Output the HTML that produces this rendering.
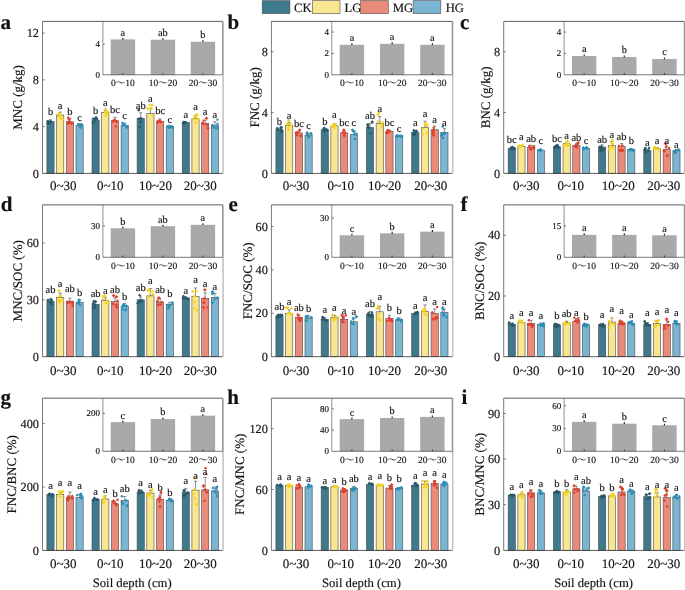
<!DOCTYPE html>
<html><head><meta charset="utf-8"><title>Figure</title>
<style>html,body{margin:0;padding:0;background:#fff}svg{display:block}text{text-rendering:geometricPrecision;stroke:#111;stroke-width:0.15px;font-family:'Liberation Serif', 'Noto Serif CJK SC', serif;fill:#111}</style>
</head><body>
<svg width="685" height="590" viewBox="0 0 685 590">
<rect width="685" height="590" fill="#fff"/>
<rect x="46.90" y="121.49" width="7.2" height="51.91" fill="#3f7a8c" stroke="#4a4a4a" stroke-width="0.6"/>
<line x1="50.50" y1="121.49" x2="50.50" y2="119.73" stroke="#444" stroke-width="0.6"/>
<line x1="48.90" y1="119.73" x2="52.10" y2="119.73" stroke="#444" stroke-width="0.6"/>
<circle cx="49.51" cy="122.82" r="1.2" fill="#27596a"/>
<path d="M48.11 121.55L49.91 123.35L48.11 125.15L46.31 123.35Z" fill="#27596a"/>
<circle cx="50.70" cy="121.12" r="1.2" fill="#27596a"/>
<path d="M50.54 120.09L52.34 121.89L50.54 123.69L48.74 121.89Z" fill="#27596a"/>
<circle cx="47.91" cy="120.94" r="1.2" fill="#27596a"/>
<path d="M48.21 119.93L50.01 121.73L48.21 123.53L46.41 121.73Z" fill="#27596a"/>
<text x="50.50" y="115.10" font-size="10.5" text-anchor="middle" >b</text>
<rect x="56.60" y="115.06" width="7.2" height="58.34" fill="#f8e690" stroke="#4a4a4a" stroke-width="0.6"/>
<line x1="60.20" y1="115.06" x2="60.20" y2="112.13" stroke="#444" stroke-width="0.6"/>
<line x1="58.60" y1="112.13" x2="61.80" y2="112.13" stroke="#444" stroke-width="0.6"/>
<circle cx="59.78" cy="115.68" r="1.2" fill="#f4d21f"/>
<path d="M58.65 112.06L60.45 113.86L58.65 115.66L56.85 113.86Z" fill="#f4d21f"/>
<circle cx="60.91" cy="118.32" r="1.2" fill="#f4d21f"/>
<path d="M59.62 112.14L61.42 113.94L59.62 115.74L57.82 113.94Z" fill="#f4d21f"/>
<circle cx="62.87" cy="119.73" r="1.2" fill="#f4d21f"/>
<path d="M59.02 114.76L60.82 116.56L59.02 118.36L57.22 116.56Z" fill="#f4d21f"/>
<text x="60.20" y="109.20" font-size="10.5" text-anchor="middle" >a</text>
<rect x="66.30" y="121.72" width="7.2" height="51.68" fill="#e98a7a" stroke="#4a4a4a" stroke-width="0.6"/>
<line x1="69.90" y1="121.72" x2="69.90" y2="118.21" stroke="#444" stroke-width="0.6"/>
<line x1="68.30" y1="118.21" x2="71.50" y2="118.21" stroke="#444" stroke-width="0.6"/>
<circle cx="67.91" cy="123.72" r="1.2" fill="#e2402c"/>
<path d="M71.67 121.75L73.47 123.55L71.67 125.35L69.87 123.55Z" fill="#e2402c"/>
<circle cx="68.11" cy="117.79" r="1.2" fill="#e2402c"/>
<path d="M69.19 117.71L70.99 119.51L69.19 121.31L67.39 119.51Z" fill="#e2402c"/>
<circle cx="70.17" cy="122.74" r="1.2" fill="#e2402c"/>
<path d="M68.25 120.35L70.05 122.15L68.25 123.95L66.45 122.15Z" fill="#e2402c"/>
<text x="69.90" y="115.10" font-size="10.5" text-anchor="middle" >b</text>
<rect x="76.00" y="125.46" width="7.2" height="47.94" fill="#7ab5d2" stroke="#4a4a4a" stroke-width="0.6"/>
<line x1="79.60" y1="125.46" x2="79.60" y2="124.06" stroke="#444" stroke-width="0.6"/>
<line x1="78.00" y1="124.06" x2="81.20" y2="124.06" stroke="#444" stroke-width="0.6"/>
<circle cx="80.61" cy="124.48" r="1.2" fill="#2b8fb8"/>
<path d="M80.08 124.14L81.88 125.94L80.08 127.74L78.28 125.94Z" fill="#2b8fb8"/>
<circle cx="79.34" cy="124.77" r="1.2" fill="#2b8fb8"/>
<path d="M80.71 125.80L82.51 127.60L80.71 129.40L78.91 127.60Z" fill="#2b8fb8"/>
<circle cx="78.17" cy="124.09" r="1.2" fill="#2b8fb8"/>
<path d="M81.70 122.97L83.50 124.77L81.70 126.57L79.90 124.77Z" fill="#2b8fb8"/>
<text x="79.60" y="121.10" font-size="10.5" text-anchor="middle" >c</text>
<rect x="92.00" y="119.97" width="7.2" height="53.43" fill="#3f7a8c" stroke="#4a4a4a" stroke-width="0.6"/>
<line x1="95.60" y1="119.97" x2="95.60" y2="118.21" stroke="#444" stroke-width="0.6"/>
<line x1="94.00" y1="118.21" x2="97.20" y2="118.21" stroke="#444" stroke-width="0.6"/>
<circle cx="96.88" cy="118.92" r="1.2" fill="#27596a"/>
<path d="M93.46 120.97L95.26 122.77L93.46 124.57L91.66 122.77Z" fill="#27596a"/>
<circle cx="95.14" cy="120.01" r="1.2" fill="#27596a"/>
<path d="M95.54 117.26L97.34 119.06L95.54 120.86L93.74 119.06Z" fill="#27596a"/>
<circle cx="93.02" cy="118.65" r="1.2" fill="#27596a"/>
<path d="M96.01 115.83L97.81 117.63L96.01 119.43L94.21 117.63Z" fill="#27596a"/>
<text x="95.60" y="114.00" font-size="10.5" text-anchor="middle" >b</text>
<rect x="101.70" y="112.37" width="7.2" height="61.03" fill="#f8e690" stroke="#4a4a4a" stroke-width="0.6"/>
<line x1="105.30" y1="112.37" x2="105.30" y2="110.03" stroke="#444" stroke-width="0.6"/>
<line x1="103.70" y1="110.03" x2="106.90" y2="110.03" stroke="#444" stroke-width="0.6"/>
<circle cx="107.40" cy="111.10" r="1.2" fill="#f4d21f"/>
<path d="M105.83 113.55L107.63 115.35L105.83 117.15L104.03 115.35Z" fill="#f4d21f"/>
<circle cx="105.75" cy="108.62" r="1.2" fill="#f4d21f"/>
<path d="M107.79 111.66L109.59 113.46L107.79 115.26L105.99 113.46Z" fill="#f4d21f"/>
<circle cx="105.15" cy="111.98" r="1.2" fill="#f4d21f"/>
<path d="M106.43 109.93L108.23 111.73L106.43 113.53L104.63 111.73Z" fill="#f4d21f"/>
<text x="105.30" y="105.50" font-size="10.5" text-anchor="middle" >a</text>
<rect x="111.40" y="120.78" width="7.2" height="52.62" fill="#e98a7a" stroke="#4a4a4a" stroke-width="0.6"/>
<line x1="115.00" y1="120.78" x2="115.00" y2="117.28" stroke="#444" stroke-width="0.6"/>
<line x1="113.40" y1="117.28" x2="116.60" y2="117.28" stroke="#444" stroke-width="0.6"/>
<circle cx="115.82" cy="126.40" r="1.2" fill="#e2402c"/>
<path d="M113.79 118.73L115.59 120.53L113.79 122.33L111.99 120.53Z" fill="#e2402c"/>
<circle cx="114.36" cy="120.45" r="1.2" fill="#e2402c"/>
<path d="M114.79 118.40L116.59 120.20L114.79 122.00L112.99 120.20Z" fill="#e2402c"/>
<circle cx="113.14" cy="121.60" r="1.2" fill="#e2402c"/>
<path d="M116.50 119.72L118.30 121.52L116.50 123.32L114.70 121.52Z" fill="#e2402c"/>
<text x="115.00" y="112.70" font-size="10.5" text-anchor="middle" >bc</text>
<rect x="121.10" y="125.46" width="7.2" height="47.94" fill="#7ab5d2" stroke="#4a4a4a" stroke-width="0.6"/>
<line x1="124.70" y1="125.46" x2="124.70" y2="123.12" stroke="#444" stroke-width="0.6"/>
<line x1="123.10" y1="123.12" x2="126.30" y2="123.12" stroke="#444" stroke-width="0.6"/>
<circle cx="122.62" cy="125.49" r="1.2" fill="#2b8fb8"/>
<path d="M126.78 125.76L128.58 127.56L126.78 129.36L124.98 127.56Z" fill="#2b8fb8"/>
<circle cx="122.35" cy="122.94" r="1.2" fill="#2b8fb8"/>
<path d="M126.85 124.50L128.65 126.30L126.85 128.10L125.05 126.30Z" fill="#2b8fb8"/>
<circle cx="126.49" cy="126.58" r="1.2" fill="#2b8fb8"/>
<path d="M124.23 122.38L126.03 124.18L124.23 125.98L122.43 124.18Z" fill="#2b8fb8"/>
<text x="124.70" y="119.20" font-size="10.5" text-anchor="middle" >c</text>
<rect x="137.10" y="118.33" width="7.2" height="55.07" fill="#3f7a8c" stroke="#4a4a4a" stroke-width="0.6"/>
<line x1="140.70" y1="118.33" x2="140.70" y2="112.83" stroke="#444" stroke-width="0.6"/>
<line x1="139.10" y1="112.83" x2="142.30" y2="112.83" stroke="#444" stroke-width="0.6"/>
<circle cx="139.91" cy="127.12" r="1.2" fill="#27596a"/>
<path d="M138.75 108.25L140.55 110.05L138.75 111.85L136.95 110.05Z" fill="#27596a"/>
<circle cx="138.89" cy="118.74" r="1.2" fill="#27596a"/>
<path d="M140.62 120.11L142.42 121.91L140.62 123.71L138.82 121.91Z" fill="#27596a"/>
<circle cx="141.20" cy="118.29" r="1.2" fill="#27596a"/>
<path d="M140.25 116.98L142.05 118.78L140.25 120.58L138.45 118.78Z" fill="#27596a"/>
<text x="140.70" y="108.70" font-size="10.5" text-anchor="middle" >ab</text>
<rect x="146.80" y="113.54" width="7.2" height="59.86" fill="#f8e690" stroke="#4a4a4a" stroke-width="0.6"/>
<line x1="150.40" y1="113.54" x2="150.40" y2="108.27" stroke="#444" stroke-width="0.6"/>
<line x1="148.80" y1="108.27" x2="152.00" y2="108.27" stroke="#444" stroke-width="0.6"/>
<circle cx="149.67" cy="105.12" r="1.2" fill="#f4d21f"/>
<path d="M151.47 106.99L153.27 108.79L151.47 110.59L149.67 108.79Z" fill="#f4d21f"/>
<circle cx="150.49" cy="108.28" r="1.2" fill="#f4d21f"/>
<path d="M147.90 106.95L149.70 108.75L147.90 110.55L146.10 108.75Z" fill="#f4d21f"/>
<circle cx="152.64" cy="115.34" r="1.2" fill="#f4d21f"/>
<path d="M152.07 103.32L153.87 105.12L152.07 106.92L150.27 105.12Z" fill="#f4d21f"/>
<text x="150.40" y="102.20" font-size="10.5" text-anchor="middle" >a</text>
<rect x="156.50" y="121.25" width="7.2" height="52.15" fill="#e98a7a" stroke="#4a4a4a" stroke-width="0.6"/>
<line x1="160.10" y1="121.25" x2="160.10" y2="118.91" stroke="#444" stroke-width="0.6"/>
<line x1="158.50" y1="118.91" x2="161.70" y2="118.91" stroke="#444" stroke-width="0.6"/>
<circle cx="159.50" cy="120.46" r="1.2" fill="#e2402c"/>
<path d="M160.85 120.04L162.65 121.84L160.85 123.64L159.05 121.84Z" fill="#e2402c"/>
<circle cx="157.65" cy="122.57" r="1.2" fill="#e2402c"/>
<path d="M158.21 120.04L160.01 121.84L158.21 123.64L156.41 121.84Z" fill="#e2402c"/>
<circle cx="159.20" cy="121.30" r="1.2" fill="#e2402c"/>
<path d="M158.15 119.47L159.95 121.27L158.15 123.07L156.35 121.27Z" fill="#e2402c"/>
<text x="160.10" y="114.30" font-size="10.5" text-anchor="middle" >bc</text>
<rect x="166.20" y="126.40" width="7.2" height="47.00" fill="#7ab5d2" stroke="#4a4a4a" stroke-width="0.6"/>
<line x1="169.80" y1="126.40" x2="169.80" y2="125.23" stroke="#444" stroke-width="0.6"/>
<line x1="168.20" y1="125.23" x2="171.40" y2="125.23" stroke="#444" stroke-width="0.6"/>
<circle cx="167.57" cy="126.24" r="1.2" fill="#2b8fb8"/>
<path d="M171.90 124.78L173.70 126.58L171.90 128.38L170.10 126.58Z" fill="#2b8fb8"/>
<circle cx="170.44" cy="126.87" r="1.2" fill="#2b8fb8"/>
<path d="M168.95 125.24L170.75 127.04L168.95 128.84L167.15 127.04Z" fill="#2b8fb8"/>
<circle cx="169.04" cy="127.86" r="1.2" fill="#2b8fb8"/>
<path d="M172.56 126.02L174.36 127.82L172.56 129.62L170.76 127.82Z" fill="#2b8fb8"/>
<text x="169.80" y="123.20" font-size="10.5" text-anchor="middle" >c</text>
<rect x="182.20" y="122.42" width="7.2" height="50.98" fill="#3f7a8c" stroke="#4a4a4a" stroke-width="0.6"/>
<line x1="185.80" y1="122.42" x2="185.80" y2="121.84" stroke="#444" stroke-width="0.6"/>
<line x1="184.20" y1="121.84" x2="187.40" y2="121.84" stroke="#444" stroke-width="0.6"/>
<circle cx="185.61" cy="122.20" r="1.2" fill="#27596a"/>
<path d="M183.57 120.64L185.37 122.44L183.57 124.24L181.77 122.44Z" fill="#27596a"/>
<circle cx="184.92" cy="122.33" r="1.2" fill="#27596a"/>
<path d="M183.90 121.56L185.70 123.36L183.90 125.16L182.10 123.36Z" fill="#27596a"/>
<circle cx="183.13" cy="123.04" r="1.2" fill="#27596a"/>
<path d="M183.82 120.43L185.62 122.23L183.82 124.03L182.02 122.23Z" fill="#27596a"/>
<text x="185.80" y="118.30" font-size="10.5" text-anchor="middle" >a</text>
<rect x="191.90" y="118.80" width="7.2" height="54.60" fill="#f8e690" stroke="#4a4a4a" stroke-width="0.6"/>
<line x1="195.50" y1="118.80" x2="195.50" y2="115.17" stroke="#444" stroke-width="0.6"/>
<line x1="193.90" y1="115.17" x2="197.10" y2="115.17" stroke="#444" stroke-width="0.6"/>
<circle cx="195.74" cy="122.74" r="1.2" fill="#f4d21f"/>
<path d="M198.18 117.67L199.98 119.47L198.18 121.27L196.38 119.47Z" fill="#f4d21f"/>
<circle cx="197.53" cy="117.96" r="1.2" fill="#f4d21f"/>
<path d="M194.75 114.60L196.55 116.40L194.75 118.20L192.95 116.40Z" fill="#f4d21f"/>
<circle cx="193.64" cy="119.35" r="1.2" fill="#f4d21f"/>
<path d="M197.06 113.01L198.86 114.81L197.06 116.61L195.26 114.81Z" fill="#f4d21f"/>
<text x="195.50" y="109.80" font-size="10.5" text-anchor="middle" >a</text>
<rect x="201.60" y="123.24" width="7.2" height="50.16" fill="#e98a7a" stroke="#4a4a4a" stroke-width="0.6"/>
<line x1="205.20" y1="123.24" x2="205.20" y2="120.08" stroke="#444" stroke-width="0.6"/>
<line x1="203.60" y1="120.08" x2="206.80" y2="120.08" stroke="#444" stroke-width="0.6"/>
<circle cx="204.25" cy="124.11" r="1.2" fill="#e2402c"/>
<path d="M207.92 126.49L209.72 128.29L207.92 130.09L206.12 128.29Z" fill="#e2402c"/>
<circle cx="207.17" cy="125.05" r="1.2" fill="#e2402c"/>
<path d="M206.54 116.51L208.34 118.31L206.54 120.11L204.74 118.31Z" fill="#e2402c"/>
<circle cx="203.67" cy="120.59" r="1.2" fill="#e2402c"/>
<path d="M202.56 121.15L204.36 122.95L202.56 124.75L200.76 122.95Z" fill="#e2402c"/>
<text x="205.20" y="115.10" font-size="10.5" text-anchor="middle" >a</text>
<rect x="211.30" y="125.46" width="7.2" height="47.94" fill="#7ab5d2" stroke="#4a4a4a" stroke-width="0.6"/>
<line x1="214.90" y1="125.46" x2="214.90" y2="121.84" stroke="#444" stroke-width="0.6"/>
<line x1="213.30" y1="121.84" x2="216.50" y2="121.84" stroke="#444" stroke-width="0.6"/>
<circle cx="212.26" cy="125.00" r="1.2" fill="#2b8fb8"/>
<path d="M215.98 126.15L217.78 127.95L215.98 129.75L214.18 127.95Z" fill="#2b8fb8"/>
<circle cx="217.46" cy="119.66" r="1.2" fill="#2b8fb8"/>
<path d="M217.63 126.16L219.43 127.96L217.63 129.76L215.83 127.96Z" fill="#2b8fb8"/>
<circle cx="217.45" cy="123.94" r="1.2" fill="#2b8fb8"/>
<path d="M213.37 125.39L215.17 127.19L213.37 128.99L211.57 127.19Z" fill="#2b8fb8"/>
<text x="214.90" y="118.30" font-size="10.5" text-anchor="middle" >a</text>
<line x1="42.50" y1="21.40" x2="222.90" y2="21.40" stroke="#333" stroke-width="0.8"/>
<line x1="42.50" y1="21.40" x2="42.50" y2="173.40" stroke="#333" stroke-width="0.65"/>
<line x1="42.50" y1="173.40" x2="222.90" y2="173.40" stroke="#333" stroke-width="0.8"/>
<line x1="223.10" y1="21.40" x2="223.10" y2="173.40" stroke="#c4c4c4" stroke-width="1.6"/>
<text x="39.00" y="177.50" font-size="12.3" text-anchor="end" >0</text>
<line x1="42.50" y1="126.63" x2="44.70" y2="126.63" stroke="#333" stroke-width="0.65"/>
<text x="39.00" y="130.73" font-size="12.3" text-anchor="end" >4</text>
<line x1="42.50" y1="79.86" x2="44.70" y2="79.86" stroke="#333" stroke-width="0.65"/>
<text x="39.00" y="83.96" font-size="12.3" text-anchor="end" >8</text>
<line x1="42.50" y1="33.09" x2="44.70" y2="33.09" stroke="#333" stroke-width="0.65"/>
<text x="39.00" y="37.19" font-size="12.3" text-anchor="end" >12</text>
<text x="63.35" y="190.00" font-size="13" text-anchor="middle" >0~30</text>
<text x="110.15" y="190.00" font-size="13" text-anchor="middle" >0~10</text>
<text x="155.45" y="190.00" font-size="13" text-anchor="middle" >10~20</text>
<text x="200.35" y="190.00" font-size="13" text-anchor="middle" >20~30</text>
<text transform="translate(22.00,97.40) rotate(-90)" font-size="13" text-anchor="middle">MNC (g/kg)</text>
<text x="0.5" y="29.40" font-size="21" font-weight="bold">a</text>
<rect x="110.70" y="39.40" width="24.4" height="35.40" fill="#a9a9a9"/>
<line x1="122.90" y1="39.70" x2="122.90" y2="37.90" stroke="#111" stroke-width="1.1"/>
<line x1="122.90" y1="74.80" x2="122.90" y2="73.00" stroke="#222" stroke-width="0.8"/>
<text x="122.90" y="35.80" font-size="10.3" text-anchor="middle" >a</text>
<text x="122.90" y="86.10" font-size="9.5" text-anchor="middle" >0～10</text>
<rect x="150.70" y="39.71" width="24.4" height="35.09" fill="#a9a9a9"/>
<line x1="162.90" y1="40.01" x2="162.90" y2="38.21" stroke="#111" stroke-width="1.1"/>
<line x1="162.90" y1="74.80" x2="162.90" y2="73.00" stroke="#222" stroke-width="0.8"/>
<text x="162.90" y="36.11" font-size="10.3" text-anchor="middle" >ab</text>
<text x="162.90" y="86.10" font-size="9.5" text-anchor="middle" >10～20</text>
<rect x="190.70" y="41.77" width="24.4" height="33.03" fill="#a9a9a9"/>
<line x1="202.90" y1="42.07" x2="202.90" y2="40.27" stroke="#111" stroke-width="1.1"/>
<line x1="202.90" y1="74.80" x2="202.90" y2="73.00" stroke="#222" stroke-width="0.8"/>
<text x="202.90" y="38.17" font-size="10.3" text-anchor="middle" >b</text>
<text x="202.90" y="86.10" font-size="9.5" text-anchor="middle" >20～30</text>
<line x1="102.90" y1="21.40" x2="102.90" y2="74.80" stroke="#333" stroke-width="0.55"/>
<line x1="102.90" y1="74.80" x2="222.90" y2="74.80" stroke="#333" stroke-width="0.65"/>
<text x="100.10" y="77.70" font-size="9" text-anchor="end" >0</text>
<line x1="102.90" y1="44.29" x2="104.90" y2="44.29" stroke="#333" stroke-width="0.65"/>
<text x="100.10" y="47.19" font-size="9" text-anchor="end" >4</text>
<line x1="222.70" y1="21.40" x2="222.70" y2="74.80" stroke="#8a8a8a" stroke-width="1.0"/>
<rect x="275.89" y="129.78" width="7.2" height="43.62" fill="#3f7a8c" stroke="#4a4a4a" stroke-width="0.6"/>
<line x1="279.49" y1="129.78" x2="279.49" y2="128.26" stroke="#444" stroke-width="0.6"/>
<line x1="277.89" y1="128.26" x2="281.09" y2="128.26" stroke="#444" stroke-width="0.6"/>
<circle cx="277.79" cy="130.32" r="1.2" fill="#27596a"/>
<path d="M281.73 129.81L283.53 131.61L281.73 133.41L279.93 131.61Z" fill="#27596a"/>
<circle cx="281.39" cy="127.80" r="1.2" fill="#27596a"/>
<path d="M281.17 128.23L282.97 130.03L281.17 131.83L279.37 130.03Z" fill="#27596a"/>
<circle cx="277.16" cy="128.18" r="1.2" fill="#27596a"/>
<path d="M281.07 125.54L282.87 127.34L281.07 129.14L279.27 127.34Z" fill="#27596a"/>
<text x="279.49" y="125.30" font-size="10.5" text-anchor="middle" >b</text>
<rect x="285.59" y="125.37" width="7.2" height="48.03" fill="#f8e690" stroke="#4a4a4a" stroke-width="0.6"/>
<line x1="289.19" y1="125.37" x2="289.19" y2="122.33" stroke="#444" stroke-width="0.6"/>
<line x1="287.59" y1="122.33" x2="290.79" y2="122.33" stroke="#444" stroke-width="0.6"/>
<circle cx="290.59" cy="123.67" r="1.2" fill="#f4d21f"/>
<path d="M290.81 123.80L292.61 125.60L290.81 127.40L289.01 125.60Z" fill="#f4d21f"/>
<circle cx="288.25" cy="127.66" r="1.2" fill="#f4d21f"/>
<path d="M288.60 118.70L290.40 120.50L288.60 122.30L286.80 120.50Z" fill="#f4d21f"/>
<circle cx="288.64" cy="129.52" r="1.2" fill="#f4d21f"/>
<path d="M287.34 122.13L289.14 123.93L287.34 125.73L285.54 123.93Z" fill="#f4d21f"/>
<text x="289.19" y="118.80" font-size="10.5" text-anchor="middle" >a</text>
<rect x="295.29" y="132.97" width="7.2" height="40.43" fill="#e98a7a" stroke="#4a4a4a" stroke-width="0.6"/>
<line x1="298.89" y1="132.97" x2="298.89" y2="131.14" stroke="#444" stroke-width="0.6"/>
<line x1="297.29" y1="131.14" x2="300.49" y2="131.14" stroke="#444" stroke-width="0.6"/>
<circle cx="296.80" cy="135.04" r="1.2" fill="#e2402c"/>
<path d="M300.60 134.06L302.40 135.86L300.60 137.66L298.80 135.86Z" fill="#e2402c"/>
<circle cx="296.91" cy="135.10" r="1.2" fill="#e2402c"/>
<path d="M299.77 128.25L301.57 130.05L299.77 131.85L297.97 130.05Z" fill="#e2402c"/>
<circle cx="298.05" cy="132.14" r="1.2" fill="#e2402c"/>
<path d="M296.17 130.91L297.97 132.71L296.17 134.51L294.37 132.71Z" fill="#e2402c"/>
<text x="298.89" y="126.90" font-size="10.5" text-anchor="middle" >bc</text>
<rect x="304.99" y="135.10" width="7.2" height="38.30" fill="#7ab5d2" stroke="#4a4a4a" stroke-width="0.6"/>
<line x1="308.59" y1="135.10" x2="308.59" y2="133.27" stroke="#444" stroke-width="0.6"/>
<line x1="306.99" y1="133.27" x2="310.19" y2="133.27" stroke="#444" stroke-width="0.6"/>
<circle cx="311.22" cy="133.91" r="1.2" fill="#2b8fb8"/>
<path d="M311.02 131.67L312.82 133.47L311.02 135.27L309.22 133.47Z" fill="#2b8fb8"/>
<circle cx="308.22" cy="137.22" r="1.2" fill="#2b8fb8"/>
<path d="M306.97 131.08L308.77 132.88L306.97 134.68L305.17 132.88Z" fill="#2b8fb8"/>
<circle cx="307.20" cy="134.77" r="1.2" fill="#2b8fb8"/>
<path d="M309.07 134.47L310.87 136.27L309.07 138.07L307.27 136.27Z" fill="#2b8fb8"/>
<text x="308.59" y="128.80" font-size="10.5" text-anchor="middle" >c</text>
<rect x="321.16" y="129.78" width="7.2" height="43.62" fill="#3f7a8c" stroke="#4a4a4a" stroke-width="0.6"/>
<line x1="324.76" y1="129.78" x2="324.76" y2="128.26" stroke="#444" stroke-width="0.6"/>
<line x1="323.16" y1="128.26" x2="326.36" y2="128.26" stroke="#444" stroke-width="0.6"/>
<circle cx="323.41" cy="129.14" r="1.2" fill="#27596a"/>
<path d="M327.06 128.33L328.86 130.13L327.06 131.93L325.26 130.13Z" fill="#27596a"/>
<circle cx="323.94" cy="128.03" r="1.2" fill="#27596a"/>
<path d="M327.03 128.45L328.83 130.25L327.03 132.05L325.23 130.25Z" fill="#27596a"/>
<circle cx="324.32" cy="131.18" r="1.2" fill="#27596a"/>
<path d="M324.94 127.18L326.74 128.98L324.94 130.78L323.14 128.98Z" fill="#27596a"/>
<text x="324.76" y="124.50" font-size="10.5" text-anchor="middle" >b</text>
<rect x="330.86" y="125.82" width="7.2" height="47.58" fill="#f8e690" stroke="#4a4a4a" stroke-width="0.6"/>
<line x1="334.46" y1="125.82" x2="334.46" y2="123.54" stroke="#444" stroke-width="0.6"/>
<line x1="332.86" y1="123.54" x2="336.06" y2="123.54" stroke="#444" stroke-width="0.6"/>
<circle cx="334.59" cy="128.02" r="1.2" fill="#f4d21f"/>
<path d="M332.69 124.28L334.49 126.08L332.69 127.88L330.89 126.08Z" fill="#f4d21f"/>
<circle cx="331.68" cy="126.21" r="1.2" fill="#f4d21f"/>
<path d="M334.31 122.82L336.11 124.62L334.31 126.42L332.51 124.62Z" fill="#f4d21f"/>
<circle cx="335.72" cy="124.11" r="1.2" fill="#f4d21f"/>
<path d="M334.57 123.39L336.37 125.19L334.57 126.99L332.77 125.19Z" fill="#f4d21f"/>
<text x="334.46" y="118.30" font-size="10.5" text-anchor="middle" >a</text>
<rect x="340.56" y="132.97" width="7.2" height="40.43" fill="#e98a7a" stroke="#4a4a4a" stroke-width="0.6"/>
<line x1="344.16" y1="132.97" x2="344.16" y2="131.14" stroke="#444" stroke-width="0.6"/>
<line x1="342.56" y1="131.14" x2="345.76" y2="131.14" stroke="#444" stroke-width="0.6"/>
<circle cx="344.47" cy="133.13" r="1.2" fill="#e2402c"/>
<path d="M344.50 130.41L346.30 132.21L344.50 134.01L342.70 132.21Z" fill="#e2402c"/>
<circle cx="342.75" cy="132.49" r="1.2" fill="#e2402c"/>
<path d="M344.21 133.95L346.01 135.75L344.21 137.55L342.41 135.75Z" fill="#e2402c"/>
<circle cx="344.51" cy="133.20" r="1.2" fill="#e2402c"/>
<path d="M343.84 128.25L345.64 130.05L343.84 131.85L342.04 130.05Z" fill="#e2402c"/>
<text x="344.16" y="125.60" font-size="10.5" text-anchor="middle" >bc</text>
<rect x="350.26" y="134.64" width="7.2" height="38.76" fill="#7ab5d2" stroke="#4a4a4a" stroke-width="0.6"/>
<line x1="353.86" y1="134.64" x2="353.86" y2="131.60" stroke="#444" stroke-width="0.6"/>
<line x1="352.26" y1="131.60" x2="355.46" y2="131.60" stroke="#444" stroke-width="0.6"/>
<circle cx="354.49" cy="131.36" r="1.2" fill="#2b8fb8"/>
<path d="M354.94 132.73L356.74 134.53L354.94 136.33L353.14 134.53Z" fill="#2b8fb8"/>
<circle cx="353.60" cy="131.59" r="1.2" fill="#2b8fb8"/>
<path d="M356.33 132.19L358.13 133.99L356.33 135.79L354.53 133.99Z" fill="#2b8fb8"/>
<circle cx="354.98" cy="139.30" r="1.2" fill="#2b8fb8"/>
<path d="M352.52 128.27L354.32 130.07L352.52 131.87L350.72 130.07Z" fill="#2b8fb8"/>
<text x="353.86" y="126.40" font-size="10.5" text-anchor="middle" >c</text>
<rect x="366.44" y="127.34" width="7.2" height="46.06" fill="#3f7a8c" stroke="#4a4a4a" stroke-width="0.6"/>
<line x1="370.04" y1="127.34" x2="370.04" y2="123.54" stroke="#444" stroke-width="0.6"/>
<line x1="368.44" y1="123.54" x2="371.64" y2="123.54" stroke="#444" stroke-width="0.6"/>
<circle cx="370.37" cy="133.42" r="1.2" fill="#27596a"/>
<path d="M368.01 123.26L369.81 125.06L368.01 126.86L366.21 125.06Z" fill="#27596a"/>
<circle cx="367.92" cy="126.10" r="1.2" fill="#27596a"/>
<path d="M368.59 126.02L370.39 127.82L368.59 129.62L366.79 127.82Z" fill="#27596a"/>
<circle cx="367.65" cy="124.44" r="1.2" fill="#27596a"/>
<path d="M372.26 120.31L374.06 122.11L372.26 123.91L370.46 122.11Z" fill="#27596a"/>
<text x="370.04" y="119.20" font-size="10.5" text-anchor="middle" >ab</text>
<rect x="376.14" y="123.39" width="7.2" height="50.01" fill="#f8e690" stroke="#4a4a4a" stroke-width="0.6"/>
<line x1="379.74" y1="123.39" x2="379.74" y2="116.55" stroke="#444" stroke-width="0.6"/>
<line x1="378.14" y1="116.55" x2="381.34" y2="116.55" stroke="#444" stroke-width="0.6"/>
<circle cx="377.80" cy="121.48" r="1.2" fill="#f4d21f"/>
<path d="M377.74 112.75L379.54 114.55L377.74 116.35L375.94 114.55Z" fill="#f4d21f"/>
<circle cx="381.88" cy="127.64" r="1.2" fill="#f4d21f"/>
<path d="M382.27 120.71L384.07 122.51L382.27 124.31L380.47 122.51Z" fill="#f4d21f"/>
<circle cx="379.17" cy="112.45" r="1.2" fill="#f4d21f"/>
<path d="M381.60 123.08L383.40 124.88L381.60 126.68L379.80 124.88Z" fill="#f4d21f"/>
<text x="379.74" y="111.90" font-size="10.5" text-anchor="middle" >a</text>
<rect x="385.84" y="131.30" width="7.2" height="42.10" fill="#e98a7a" stroke="#4a4a4a" stroke-width="0.6"/>
<line x1="389.44" y1="131.30" x2="389.44" y2="130.08" stroke="#444" stroke-width="0.6"/>
<line x1="387.84" y1="130.08" x2="391.04" y2="130.08" stroke="#444" stroke-width="0.6"/>
<circle cx="387.54" cy="130.10" r="1.2" fill="#e2402c"/>
<path d="M388.54 130.05L390.34 131.85L388.54 133.65L386.74 131.85Z" fill="#e2402c"/>
<circle cx="387.73" cy="130.56" r="1.2" fill="#e2402c"/>
<path d="M386.75 131.09L388.55 132.89L386.75 134.69L384.95 132.89Z" fill="#e2402c"/>
<circle cx="389.74" cy="131.10" r="1.2" fill="#e2402c"/>
<path d="M388.49 129.57L390.29 131.37L388.49 133.17L386.69 131.37Z" fill="#e2402c"/>
<text x="389.44" y="125.60" font-size="10.5" text-anchor="middle" >bc</text>
<rect x="395.54" y="136.16" width="7.2" height="37.24" fill="#7ab5d2" stroke="#4a4a4a" stroke-width="0.6"/>
<line x1="399.14" y1="136.16" x2="399.14" y2="135.25" stroke="#444" stroke-width="0.6"/>
<line x1="397.54" y1="135.25" x2="400.74" y2="135.25" stroke="#444" stroke-width="0.6"/>
<circle cx="399.83" cy="135.86" r="1.2" fill="#2b8fb8"/>
<path d="M401.85 134.34L403.65 136.14L401.85 137.94L400.05 136.14Z" fill="#2b8fb8"/>
<circle cx="400.75" cy="136.54" r="1.2" fill="#2b8fb8"/>
<path d="M397.82 134.29L399.62 136.09L397.82 137.89L396.02 136.09Z" fill="#2b8fb8"/>
<circle cx="396.56" cy="136.28" r="1.2" fill="#2b8fb8"/>
<path d="M397.06 133.72L398.86 135.52L397.06 137.32L395.26 135.52Z" fill="#2b8fb8"/>
<text x="399.14" y="132.00" font-size="10.5" text-anchor="middle" >c</text>
<rect x="411.71" y="132.21" width="7.2" height="41.19" fill="#3f7a8c" stroke="#4a4a4a" stroke-width="0.6"/>
<line x1="415.31" y1="132.21" x2="415.31" y2="130.38" stroke="#444" stroke-width="0.6"/>
<line x1="413.71" y1="130.38" x2="416.91" y2="130.38" stroke="#444" stroke-width="0.6"/>
<circle cx="414.88" cy="134.78" r="1.2" fill="#27596a"/>
<path d="M413.96 128.80L415.76 130.60L413.96 132.40L412.16 130.60Z" fill="#27596a"/>
<circle cx="413.35" cy="134.07" r="1.2" fill="#27596a"/>
<path d="M416.43 129.37L418.23 131.17L416.43 132.97L414.63 131.17Z" fill="#27596a"/>
<circle cx="413.01" cy="134.55" r="1.2" fill="#27596a"/>
<path d="M414.89 131.29L416.69 133.09L414.89 134.89L413.09 133.09Z" fill="#27596a"/>
<text x="415.31" y="125.60" font-size="10.5" text-anchor="middle" >a</text>
<rect x="421.41" y="127.34" width="7.2" height="46.06" fill="#f8e690" stroke="#4a4a4a" stroke-width="0.6"/>
<line x1="425.01" y1="127.34" x2="425.01" y2="121.26" stroke="#444" stroke-width="0.6"/>
<line x1="423.41" y1="121.26" x2="426.61" y2="121.26" stroke="#444" stroke-width="0.6"/>
<circle cx="422.62" cy="134.53" r="1.2" fill="#f4d21f"/>
<path d="M426.70 122.61L428.50 124.41L426.70 126.21L424.90 124.41Z" fill="#f4d21f"/>
<circle cx="422.68" cy="128.60" r="1.2" fill="#f4d21f"/>
<path d="M427.04 123.95L428.84 125.75L427.04 127.55L425.24 125.75Z" fill="#f4d21f"/>
<circle cx="424.75" cy="123.65" r="1.2" fill="#f4d21f"/>
<path d="M427.40 131.43L429.20 133.23L427.40 135.03L425.60 133.23Z" fill="#f4d21f"/>
<text x="425.01" y="117.20" font-size="10.5" text-anchor="middle" >a</text>
<rect x="431.11" y="129.78" width="7.2" height="43.62" fill="#e98a7a" stroke="#4a4a4a" stroke-width="0.6"/>
<line x1="434.71" y1="129.78" x2="434.71" y2="125.98" stroke="#444" stroke-width="0.6"/>
<line x1="433.11" y1="125.98" x2="436.31" y2="125.98" stroke="#444" stroke-width="0.6"/>
<circle cx="433.41" cy="132.66" r="1.2" fill="#e2402c"/>
<path d="M433.25 131.01L435.05 132.81L433.25 134.61L431.45 132.81Z" fill="#e2402c"/>
<circle cx="432.53" cy="130.36" r="1.2" fill="#e2402c"/>
<path d="M433.04 128.91L434.84 130.71L433.04 132.51L431.24 130.71Z" fill="#e2402c"/>
<circle cx="433.66" cy="127.82" r="1.2" fill="#e2402c"/>
<path d="M433.54 133.41L435.34 135.21L433.54 137.01L431.74 135.21Z" fill="#e2402c"/>
<text x="434.71" y="122.70" font-size="10.5" text-anchor="middle" >a</text>
<rect x="440.81" y="132.51" width="7.2" height="40.89" fill="#7ab5d2" stroke="#4a4a4a" stroke-width="0.6"/>
<line x1="444.41" y1="132.51" x2="444.41" y2="128.71" stroke="#444" stroke-width="0.6"/>
<line x1="442.81" y1="128.71" x2="446.01" y2="128.71" stroke="#444" stroke-width="0.6"/>
<circle cx="444.41" cy="133.89" r="1.2" fill="#2b8fb8"/>
<path d="M441.71 133.55L443.51 135.35L441.71 137.15L439.91 135.35Z" fill="#2b8fb8"/>
<circle cx="443.02" cy="138.04" r="1.2" fill="#2b8fb8"/>
<path d="M444.70 131.25L446.50 133.05L444.70 134.85L442.90 133.05Z" fill="#2b8fb8"/>
<circle cx="442.67" cy="126.43" r="1.2" fill="#2b8fb8"/>
<path d="M442.21 131.97L444.01 133.77L442.21 135.57L440.41 133.77Z" fill="#2b8fb8"/>
<text x="444.41" y="125.60" font-size="10.5" text-anchor="middle" >a</text>
<line x1="271.40" y1="21.40" x2="452.50" y2="21.40" stroke="#333" stroke-width="0.8"/>
<line x1="271.40" y1="21.40" x2="271.40" y2="173.40" stroke="#333" stroke-width="0.65"/>
<line x1="271.40" y1="173.40" x2="452.50" y2="173.40" stroke="#333" stroke-width="0.8"/>
<line x1="452.70" y1="21.40" x2="452.70" y2="173.40" stroke="#c4c4c4" stroke-width="1.6"/>
<text x="267.90" y="177.50" font-size="12.3" text-anchor="end" >0</text>
<line x1="271.40" y1="112.60" x2="273.60" y2="112.60" stroke="#333" stroke-width="0.65"/>
<text x="267.90" y="116.70" font-size="12.3" text-anchor="end" >4</text>
<line x1="271.40" y1="51.80" x2="273.60" y2="51.80" stroke="#333" stroke-width="0.65"/>
<text x="267.90" y="55.90" font-size="12.3" text-anchor="end" >8</text>
<text x="295.94" y="190.00" font-size="13" text-anchor="middle" >0~30</text>
<text x="340.71" y="190.00" font-size="13" text-anchor="middle" >0~10</text>
<text x="384.59" y="190.00" font-size="13" text-anchor="middle" >10~20</text>
<text x="430.66" y="190.00" font-size="13" text-anchor="middle" >20~30</text>
<text transform="translate(258.60,97.40) rotate(-90)" font-size="13" text-anchor="middle">FNC (g/kg)</text>
<text x="227.5" y="28.90" font-size="21" font-weight="bold">b</text>
<rect x="339.72" y="44.79" width="24.4" height="30.01" fill="#a9a9a9"/>
<line x1="351.92" y1="45.09" x2="351.92" y2="43.29" stroke="#111" stroke-width="1.1"/>
<line x1="351.92" y1="74.80" x2="351.92" y2="73.00" stroke="#222" stroke-width="0.8"/>
<text x="351.92" y="41.19" font-size="10.3" text-anchor="middle" >a</text>
<text x="351.92" y="86.10" font-size="9.5" text-anchor="middle" >0～10</text>
<rect x="379.95" y="43.83" width="24.4" height="30.97" fill="#a9a9a9"/>
<line x1="392.15" y1="44.13" x2="392.15" y2="42.33" stroke="#111" stroke-width="1.1"/>
<line x1="392.15" y1="74.80" x2="392.15" y2="73.00" stroke="#222" stroke-width="0.8"/>
<text x="392.15" y="40.23" font-size="10.3" text-anchor="middle" >a</text>
<text x="392.15" y="86.10" font-size="9.5" text-anchor="middle" >10～20</text>
<rect x="420.18" y="44.79" width="24.4" height="30.01" fill="#a9a9a9"/>
<line x1="432.38" y1="45.09" x2="432.38" y2="43.29" stroke="#111" stroke-width="1.1"/>
<line x1="432.38" y1="74.80" x2="432.38" y2="73.00" stroke="#222" stroke-width="0.8"/>
<text x="432.38" y="41.19" font-size="10.3" text-anchor="middle" >a</text>
<text x="432.38" y="86.10" font-size="9.5" text-anchor="middle" >20～30</text>
<line x1="331.80" y1="21.40" x2="331.80" y2="74.80" stroke="#333" stroke-width="0.55"/>
<line x1="331.80" y1="74.80" x2="452.50" y2="74.80" stroke="#333" stroke-width="0.65"/>
<text x="329.00" y="77.70" font-size="9" text-anchor="end" >0</text>
<line x1="331.80" y1="53.44" x2="333.80" y2="53.44" stroke="#333" stroke-width="0.65"/>
<text x="329.00" y="56.34" font-size="9" text-anchor="end" >2</text>
<line x1="331.80" y1="32.08" x2="333.80" y2="32.08" stroke="#333" stroke-width="0.65"/>
<text x="329.00" y="34.98" font-size="9" text-anchor="end" >4</text>
<line x1="452.30" y1="21.40" x2="452.30" y2="74.80" stroke="#8a8a8a" stroke-width="1.0"/>
<rect x="508.15" y="148.62" width="7.2" height="24.78" fill="#3f7a8c" stroke="#4a4a4a" stroke-width="0.6"/>
<line x1="511.75" y1="148.62" x2="511.75" y2="147.71" stroke="#444" stroke-width="0.6"/>
<line x1="510.15" y1="147.71" x2="513.35" y2="147.71" stroke="#444" stroke-width="0.6"/>
<circle cx="513.54" cy="147.75" r="1.2" fill="#27596a"/>
<path d="M513.62 147.22L515.42 149.02L513.62 150.82L511.82 149.02Z" fill="#27596a"/>
<circle cx="511.15" cy="147.37" r="1.2" fill="#27596a"/>
<path d="M514.45 146.77L516.25 148.57L514.45 150.37L512.65 148.57Z" fill="#27596a"/>
<circle cx="510.87" cy="149.26" r="1.2" fill="#27596a"/>
<path d="M512.51 145.71L514.31 147.51L512.51 149.31L510.71 147.51Z" fill="#27596a"/>
<text x="511.75" y="143.30" font-size="10.5" text-anchor="middle" >bc</text>
<rect x="517.85" y="146.50" width="7.2" height="26.90" fill="#f8e690" stroke="#4a4a4a" stroke-width="0.6"/>
<line x1="521.45" y1="146.50" x2="521.45" y2="145.58" stroke="#444" stroke-width="0.6"/>
<line x1="519.85" y1="145.58" x2="523.05" y2="145.58" stroke="#444" stroke-width="0.6"/>
<circle cx="520.92" cy="146.34" r="1.2" fill="#f4d21f"/>
<path d="M519.38 144.92L521.18 146.72L519.38 148.52L517.58 146.72Z" fill="#f4d21f"/>
<circle cx="519.05" cy="146.46" r="1.2" fill="#f4d21f"/>
<path d="M519.56 144.07L521.36 145.87L519.56 147.67L517.76 145.87Z" fill="#f4d21f"/>
<circle cx="519.12" cy="147.40" r="1.2" fill="#f4d21f"/>
<path d="M522.41 143.30L524.21 145.10L522.41 146.90L520.61 145.10Z" fill="#f4d21f"/>
<text x="521.45" y="139.90" font-size="10.5" text-anchor="middle" >a</text>
<rect x="527.55" y="147.56" width="7.2" height="25.84" fill="#e98a7a" stroke="#4a4a4a" stroke-width="0.6"/>
<line x1="531.15" y1="147.56" x2="531.15" y2="145.28" stroke="#444" stroke-width="0.6"/>
<line x1="529.55" y1="145.28" x2="532.75" y2="145.28" stroke="#444" stroke-width="0.6"/>
<circle cx="529.93" cy="147.64" r="1.2" fill="#e2402c"/>
<path d="M530.92 147.47L532.72 149.27L530.92 151.07L529.12 149.27Z" fill="#e2402c"/>
<circle cx="529.23" cy="146.05" r="1.2" fill="#e2402c"/>
<path d="M533.74 146.30L535.54 148.10L533.74 149.90L531.94 148.10Z" fill="#e2402c"/>
<circle cx="533.80" cy="146.09" r="1.2" fill="#e2402c"/>
<path d="M533.76 145.31L535.56 147.11L533.76 148.91L531.96 147.11Z" fill="#e2402c"/>
<text x="531.15" y="141.80" font-size="10.5" text-anchor="middle" >ab</text>
<rect x="537.25" y="150.14" width="7.2" height="23.26" fill="#7ab5d2" stroke="#4a4a4a" stroke-width="0.6"/>
<line x1="540.85" y1="150.14" x2="540.85" y2="149.38" stroke="#444" stroke-width="0.6"/>
<line x1="539.25" y1="149.38" x2="542.45" y2="149.38" stroke="#444" stroke-width="0.6"/>
<circle cx="539.78" cy="150.12" r="1.2" fill="#2b8fb8"/>
<path d="M540.19 148.37L541.99 150.17L540.19 151.97L538.39 150.17Z" fill="#2b8fb8"/>
<circle cx="540.71" cy="149.69" r="1.2" fill="#2b8fb8"/>
<path d="M540.88 148.34L542.68 150.14L540.88 151.94L539.08 150.14Z" fill="#2b8fb8"/>
<circle cx="538.08" cy="150.12" r="1.2" fill="#2b8fb8"/>
<path d="M540.29 148.64L542.09 150.44L540.29 152.24L538.49 150.44Z" fill="#2b8fb8"/>
<text x="540.85" y="144.30" font-size="10.5" text-anchor="middle" >c</text>
<rect x="553.35" y="146.72" width="7.2" height="26.68" fill="#3f7a8c" stroke="#4a4a4a" stroke-width="0.6"/>
<line x1="556.95" y1="146.72" x2="556.95" y2="145.51" stroke="#444" stroke-width="0.6"/>
<line x1="555.35" y1="145.51" x2="558.55" y2="145.51" stroke="#444" stroke-width="0.6"/>
<circle cx="554.38" cy="147.65" r="1.2" fill="#27596a"/>
<path d="M555.45 145.06L557.25 146.86L555.45 148.66L553.65 146.86Z" fill="#27596a"/>
<circle cx="557.43" cy="144.93" r="1.2" fill="#27596a"/>
<path d="M557.83 144.59L559.63 146.39L557.83 148.19L556.03 146.39Z" fill="#27596a"/>
<circle cx="558.16" cy="147.51" r="1.2" fill="#27596a"/>
<path d="M555.98 144.18L557.78 145.98L555.98 147.78L554.18 145.98Z" fill="#27596a"/>
<text x="556.95" y="141.80" font-size="10.5" text-anchor="middle" >bc</text>
<rect x="563.05" y="143.76" width="7.2" height="29.64" fill="#f8e690" stroke="#4a4a4a" stroke-width="0.6"/>
<line x1="566.65" y1="143.76" x2="566.65" y2="142.24" stroke="#444" stroke-width="0.6"/>
<line x1="565.05" y1="142.24" x2="568.25" y2="142.24" stroke="#444" stroke-width="0.6"/>
<circle cx="569.36" cy="145.06" r="1.2" fill="#f4d21f"/>
<path d="M567.45 143.73L569.25 145.53L567.45 147.33L565.65 145.53Z" fill="#f4d21f"/>
<circle cx="564.10" cy="145.23" r="1.2" fill="#f4d21f"/>
<path d="M567.36 139.53L569.16 141.33L567.36 143.13L565.56 141.33Z" fill="#f4d21f"/>
<circle cx="567.96" cy="144.05" r="1.2" fill="#f4d21f"/>
<path d="M566.78 141.27L568.58 143.07L566.78 144.87L564.98 143.07Z" fill="#f4d21f"/>
<text x="566.65" y="138.90" font-size="10.5" text-anchor="middle" >a</text>
<rect x="572.75" y="145.43" width="7.2" height="27.97" fill="#e98a7a" stroke="#4a4a4a" stroke-width="0.6"/>
<line x1="576.35" y1="145.43" x2="576.35" y2="143.61" stroke="#444" stroke-width="0.6"/>
<line x1="574.75" y1="143.61" x2="577.95" y2="143.61" stroke="#444" stroke-width="0.6"/>
<circle cx="576.37" cy="146.94" r="1.2" fill="#e2402c"/>
<path d="M578.18 141.08L579.98 142.88L578.18 144.68L576.38 142.88Z" fill="#e2402c"/>
<circle cx="576.82" cy="147.38" r="1.2" fill="#e2402c"/>
<path d="M577.43 142.08L579.23 143.88L577.43 145.68L575.63 143.88Z" fill="#e2402c"/>
<circle cx="574.84" cy="146.29" r="1.2" fill="#e2402c"/>
<path d="M575.57 143.80L577.37 145.60L575.57 147.40L573.77 145.60Z" fill="#e2402c"/>
<text x="576.35" y="140.70" font-size="10.5" text-anchor="middle" >ab</text>
<rect x="582.45" y="148.62" width="7.2" height="24.78" fill="#7ab5d2" stroke="#4a4a4a" stroke-width="0.6"/>
<line x1="586.05" y1="148.62" x2="586.05" y2="147.71" stroke="#444" stroke-width="0.6"/>
<line x1="584.45" y1="147.71" x2="587.65" y2="147.71" stroke="#444" stroke-width="0.6"/>
<circle cx="583.84" cy="149.16" r="1.2" fill="#2b8fb8"/>
<path d="M586.77 145.92L588.57 147.72L586.77 149.52L584.97 147.72Z" fill="#2b8fb8"/>
<circle cx="586.76" cy="148.22" r="1.2" fill="#2b8fb8"/>
<path d="M583.27 145.96L585.07 147.76L583.27 149.56L581.47 147.76Z" fill="#2b8fb8"/>
<circle cx="587.72" cy="148.61" r="1.2" fill="#2b8fb8"/>
<path d="M586.25 145.85L588.05 147.65L586.25 149.45L584.45 147.65Z" fill="#2b8fb8"/>
<text x="586.05" y="144.30" font-size="10.5" text-anchor="middle" >c</text>
<rect x="598.55" y="147.10" width="7.2" height="26.30" fill="#3f7a8c" stroke="#4a4a4a" stroke-width="0.6"/>
<line x1="602.15" y1="147.10" x2="602.15" y2="144.82" stroke="#444" stroke-width="0.6"/>
<line x1="600.55" y1="144.82" x2="603.75" y2="144.82" stroke="#444" stroke-width="0.6"/>
<circle cx="603.04" cy="150.17" r="1.2" fill="#27596a"/>
<path d="M600.76 146.66L602.56 148.46L600.76 150.26L598.96 148.46Z" fill="#27596a"/>
<circle cx="599.77" cy="146.78" r="1.2" fill="#27596a"/>
<path d="M600.50 148.61L602.30 150.41L600.50 152.21L598.70 150.41Z" fill="#27596a"/>
<circle cx="603.49" cy="149.47" r="1.2" fill="#27596a"/>
<path d="M601.49 144.94L603.29 146.74L601.49 148.54L599.69 146.74Z" fill="#27596a"/>
<text x="602.15" y="143.30" font-size="10.5" text-anchor="middle" >ab</text>
<rect x="608.25" y="145.43" width="7.2" height="27.97" fill="#f8e690" stroke="#4a4a4a" stroke-width="0.6"/>
<line x1="611.85" y1="145.43" x2="611.85" y2="141.63" stroke="#444" stroke-width="0.6"/>
<line x1="610.25" y1="141.63" x2="613.45" y2="141.63" stroke="#444" stroke-width="0.6"/>
<circle cx="611.73" cy="143.07" r="1.2" fill="#f4d21f"/>
<path d="M612.51 138.29L614.31 140.09L612.51 141.89L610.71 140.09Z" fill="#f4d21f"/>
<circle cx="612.65" cy="147.14" r="1.2" fill="#f4d21f"/>
<path d="M610.47 144.54L612.27 146.34L610.47 148.14L608.67 146.34Z" fill="#f4d21f"/>
<circle cx="613.21" cy="143.95" r="1.2" fill="#f4d21f"/>
<path d="M609.12 147.81L610.92 149.61L609.12 151.41L607.32 149.61Z" fill="#f4d21f"/>
<text x="611.85" y="137.70" font-size="10.5" text-anchor="middle" >a</text>
<rect x="617.95" y="146.50" width="7.2" height="26.90" fill="#e98a7a" stroke="#4a4a4a" stroke-width="0.6"/>
<line x1="621.55" y1="146.50" x2="621.55" y2="143.46" stroke="#444" stroke-width="0.6"/>
<line x1="619.95" y1="143.46" x2="623.15" y2="143.46" stroke="#444" stroke-width="0.6"/>
<circle cx="619.09" cy="146.02" r="1.2" fill="#e2402c"/>
<path d="M622.63 148.75L624.43 150.55L622.63 152.35L620.83 150.55Z" fill="#e2402c"/>
<circle cx="622.53" cy="145.66" r="1.2" fill="#e2402c"/>
<path d="M621.35 147.89L623.15 149.69L621.35 151.49L619.55 149.69Z" fill="#e2402c"/>
<circle cx="621.36" cy="150.76" r="1.2" fill="#e2402c"/>
<path d="M619.87 148.62L621.67 150.42L619.87 152.22L618.07 150.42Z" fill="#e2402c"/>
<text x="621.55" y="139.90" font-size="10.5" text-anchor="middle" >ab</text>
<rect x="627.65" y="149.69" width="7.2" height="23.71" fill="#7ab5d2" stroke="#4a4a4a" stroke-width="0.6"/>
<line x1="631.25" y1="149.69" x2="631.25" y2="148.78" stroke="#444" stroke-width="0.6"/>
<line x1="629.65" y1="148.78" x2="632.85" y2="148.78" stroke="#444" stroke-width="0.6"/>
<circle cx="633.93" cy="149.83" r="1.2" fill="#2b8fb8"/>
<path d="M631.02 147.83L632.82 149.63L631.02 151.43L629.22 149.63Z" fill="#2b8fb8"/>
<circle cx="633.04" cy="150.57" r="1.2" fill="#2b8fb8"/>
<path d="M629.95 147.71L631.75 149.51L629.95 151.31L628.15 149.51Z" fill="#2b8fb8"/>
<circle cx="629.63" cy="150.22" r="1.2" fill="#2b8fb8"/>
<path d="M631.71 147.70L633.51 149.50L631.71 151.30L629.91 149.50Z" fill="#2b8fb8"/>
<text x="631.25" y="143.90" font-size="10.5" text-anchor="middle" >b</text>
<rect x="643.75" y="150.75" width="7.2" height="22.65" fill="#3f7a8c" stroke="#4a4a4a" stroke-width="0.6"/>
<line x1="647.35" y1="150.75" x2="647.35" y2="148.93" stroke="#444" stroke-width="0.6"/>
<line x1="645.75" y1="148.93" x2="648.95" y2="148.93" stroke="#444" stroke-width="0.6"/>
<circle cx="645.34" cy="147.83" r="1.2" fill="#27596a"/>
<path d="M645.29 148.34L647.09 150.14L645.29 151.94L643.49 150.14Z" fill="#27596a"/>
<circle cx="649.14" cy="147.83" r="1.2" fill="#27596a"/>
<path d="M648.49 148.76L650.29 150.56L648.49 152.36L646.69 150.56Z" fill="#27596a"/>
<circle cx="645.85" cy="152.27" r="1.2" fill="#27596a"/>
<path d="M644.69 147.82L646.49 149.62L644.69 151.42L642.89 149.62Z" fill="#27596a"/>
<text x="647.35" y="146.20" font-size="10.5" text-anchor="middle" >a</text>
<rect x="653.45" y="148.62" width="7.2" height="24.78" fill="#f8e690" stroke="#4a4a4a" stroke-width="0.6"/>
<line x1="657.05" y1="148.62" x2="657.05" y2="147.71" stroke="#444" stroke-width="0.6"/>
<line x1="655.45" y1="147.71" x2="658.65" y2="147.71" stroke="#444" stroke-width="0.6"/>
<circle cx="654.27" cy="147.73" r="1.2" fill="#f4d21f"/>
<path d="M655.94 146.87L657.74 148.67L655.94 150.47L654.14 148.67Z" fill="#f4d21f"/>
<circle cx="655.04" cy="148.23" r="1.2" fill="#f4d21f"/>
<path d="M658.96 147.42L660.76 149.22L658.96 151.02L657.16 149.22Z" fill="#f4d21f"/>
<circle cx="654.26" cy="148.63" r="1.2" fill="#f4d21f"/>
<path d="M654.92 145.36L656.72 147.16L654.92 148.96L653.12 147.16Z" fill="#f4d21f"/>
<text x="657.05" y="143.90" font-size="10.5" text-anchor="middle" >a</text>
<rect x="663.15" y="149.69" width="7.2" height="23.71" fill="#e98a7a" stroke="#4a4a4a" stroke-width="0.6"/>
<line x1="666.75" y1="149.69" x2="666.75" y2="145.89" stroke="#444" stroke-width="0.6"/>
<line x1="665.15" y1="145.89" x2="668.35" y2="145.89" stroke="#444" stroke-width="0.6"/>
<circle cx="669.14" cy="147.99" r="1.2" fill="#e2402c"/>
<path d="M665.57 141.81L667.37 143.61L665.57 145.41L663.77 143.61Z" fill="#e2402c"/>
<circle cx="666.03" cy="143.61" r="1.2" fill="#e2402c"/>
<path d="M667.25 153.97L669.05 155.77L667.25 157.57L665.45 155.77Z" fill="#e2402c"/>
<circle cx="665.97" cy="147.22" r="1.2" fill="#e2402c"/>
<path d="M664.22 149.09L666.02 150.89L664.22 152.69L662.42 150.89Z" fill="#e2402c"/>
<text x="666.75" y="143.60" font-size="10.5" text-anchor="middle" >a</text>
<rect x="672.85" y="150.75" width="7.2" height="22.65" fill="#7ab5d2" stroke="#4a4a4a" stroke-width="0.6"/>
<line x1="676.45" y1="150.75" x2="676.45" y2="149.54" stroke="#444" stroke-width="0.6"/>
<line x1="674.85" y1="149.54" x2="678.05" y2="149.54" stroke="#444" stroke-width="0.6"/>
<circle cx="674.22" cy="151.21" r="1.2" fill="#2b8fb8"/>
<path d="M678.89 148.18L680.69 149.98L678.89 151.78L677.09 149.98Z" fill="#2b8fb8"/>
<circle cx="675.05" cy="150.62" r="1.2" fill="#2b8fb8"/>
<path d="M674.71 150.25L676.51 152.05L674.71 153.85L672.91 152.05Z" fill="#2b8fb8"/>
<circle cx="675.74" cy="152.70" r="1.2" fill="#2b8fb8"/>
<path d="M678.20 148.33L680.00 150.13L678.20 151.93L676.40 150.13Z" fill="#2b8fb8"/>
<text x="676.45" y="147.70" font-size="10.5" text-anchor="middle" >a</text>
<line x1="503.70" y1="21.40" x2="684.50" y2="21.40" stroke="#333" stroke-width="0.8"/>
<line x1="503.70" y1="21.40" x2="503.70" y2="173.40" stroke="#333" stroke-width="0.65"/>
<line x1="503.70" y1="173.40" x2="684.50" y2="173.40" stroke="#333" stroke-width="0.8"/>
<line x1="684.70" y1="21.40" x2="684.70" y2="173.40" stroke="#c4c4c4" stroke-width="1.6"/>
<text x="500.20" y="177.50" font-size="12.3" text-anchor="end" >0</text>
<line x1="503.70" y1="112.60" x2="505.90" y2="112.60" stroke="#333" stroke-width="0.65"/>
<text x="500.20" y="116.70" font-size="12.3" text-anchor="end" >4</text>
<line x1="503.70" y1="51.80" x2="505.90" y2="51.80" stroke="#333" stroke-width="0.65"/>
<text x="500.20" y="55.90" font-size="12.3" text-anchor="end" >8</text>
<text x="526.30" y="190.00" font-size="13" text-anchor="middle" >0~30</text>
<text x="570.70" y="190.00" font-size="13" text-anchor="middle" >0~10</text>
<text x="618.30" y="190.00" font-size="13" text-anchor="middle" >10~20</text>
<text x="663.80" y="190.00" font-size="13" text-anchor="middle" >20~30</text>
<text transform="translate(489.70,97.40) rotate(-90)" font-size="13" text-anchor="middle">BNC (g/kg)</text>
<text x="460" y="28.90" font-size="21" font-weight="bold">c</text>
<rect x="571.97" y="56.00" width="24.4" height="18.80" fill="#a9a9a9"/>
<line x1="584.17" y1="56.30" x2="584.17" y2="54.50" stroke="#111" stroke-width="1.1"/>
<line x1="584.17" y1="74.80" x2="584.17" y2="73.00" stroke="#222" stroke-width="0.8"/>
<text x="584.17" y="52.40" font-size="10.3" text-anchor="middle" >a</text>
<text x="584.17" y="86.10" font-size="9.5" text-anchor="middle" >0～10</text>
<rect x="612.10" y="56.96" width="24.4" height="17.84" fill="#a9a9a9"/>
<line x1="624.30" y1="57.26" x2="624.30" y2="55.46" stroke="#111" stroke-width="1.1"/>
<line x1="624.30" y1="74.80" x2="624.30" y2="73.00" stroke="#222" stroke-width="0.8"/>
<text x="624.30" y="53.36" font-size="10.3" text-anchor="middle" >b</text>
<text x="624.30" y="86.10" font-size="9.5" text-anchor="middle" >10～20</text>
<rect x="652.23" y="58.99" width="24.4" height="15.81" fill="#a9a9a9"/>
<line x1="664.43" y1="59.29" x2="664.43" y2="57.49" stroke="#111" stroke-width="1.1"/>
<line x1="664.43" y1="74.80" x2="664.43" y2="73.00" stroke="#222" stroke-width="0.8"/>
<text x="664.43" y="55.39" font-size="10.3" text-anchor="middle" >c</text>
<text x="664.43" y="86.10" font-size="9.5" text-anchor="middle" >20～30</text>
<line x1="564.10" y1="21.40" x2="564.10" y2="74.80" stroke="#333" stroke-width="0.55"/>
<line x1="564.10" y1="74.80" x2="684.50" y2="74.80" stroke="#333" stroke-width="0.65"/>
<text x="561.30" y="77.70" font-size="9" text-anchor="end" >0</text>
<line x1="564.10" y1="53.44" x2="566.10" y2="53.44" stroke="#333" stroke-width="0.65"/>
<text x="561.30" y="56.34" font-size="9" text-anchor="end" >2</text>
<line x1="564.10" y1="32.08" x2="566.10" y2="32.08" stroke="#333" stroke-width="0.65"/>
<text x="561.30" y="34.98" font-size="9" text-anchor="end" >4</text>
<line x1="684.30" y1="21.40" x2="684.30" y2="74.80" stroke="#8a8a8a" stroke-width="1.0"/>
<rect x="46.90" y="301.29" width="7.2" height="55.41" fill="#3f7a8c" stroke="#4a4a4a" stroke-width="0.6"/>
<line x1="50.50" y1="301.29" x2="50.50" y2="299.40" stroke="#444" stroke-width="0.6"/>
<line x1="48.90" y1="299.40" x2="52.10" y2="299.40" stroke="#444" stroke-width="0.6"/>
<circle cx="51.23" cy="304.33" r="1.2" fill="#27596a"/>
<path d="M50.78 297.39L52.58 299.19L50.78 300.99L48.98 299.19Z" fill="#27596a"/>
<circle cx="51.73" cy="303.93" r="1.2" fill="#27596a"/>
<path d="M50.22 300.34L52.02 302.14L50.22 303.94L48.42 302.14Z" fill="#27596a"/>
<circle cx="51.91" cy="300.43" r="1.2" fill="#27596a"/>
<path d="M47.97 298.39L49.77 300.19L47.97 301.99L46.17 300.19Z" fill="#27596a"/>
<text x="50.50" y="293.20" font-size="10.5" text-anchor="middle" >ab</text>
<rect x="56.60" y="297.31" width="7.2" height="59.39" fill="#f8e690" stroke="#4a4a4a" stroke-width="0.6"/>
<line x1="60.20" y1="297.31" x2="60.20" y2="293.13" stroke="#444" stroke-width="0.6"/>
<line x1="58.60" y1="293.13" x2="61.80" y2="293.13" stroke="#444" stroke-width="0.6"/>
<circle cx="62.59" cy="300.27" r="1.2" fill="#f4d21f"/>
<path d="M59.32 298.55L61.12 300.35L59.32 302.15L57.52 300.35Z" fill="#f4d21f"/>
<circle cx="59.07" cy="296.60" r="1.2" fill="#f4d21f"/>
<path d="M58.86 288.83L60.66 290.63L58.86 292.43L57.06 290.63Z" fill="#f4d21f"/>
<circle cx="61.07" cy="295.80" r="1.2" fill="#f4d21f"/>
<path d="M59.61 300.06L61.41 301.86L59.61 303.66L57.81 301.86Z" fill="#f4d21f"/>
<text x="60.20" y="286.80" font-size="10.5" text-anchor="middle" >a</text>
<rect x="66.30" y="301.10" width="7.2" height="55.60" fill="#e98a7a" stroke="#4a4a4a" stroke-width="0.6"/>
<line x1="69.90" y1="301.10" x2="69.90" y2="298.26" stroke="#444" stroke-width="0.6"/>
<line x1="68.30" y1="298.26" x2="71.50" y2="298.26" stroke="#444" stroke-width="0.6"/>
<circle cx="68.04" cy="302.02" r="1.2" fill="#e2402c"/>
<path d="M72.17 300.79L73.97 302.59L72.17 304.39L70.37 302.59Z" fill="#e2402c"/>
<circle cx="69.88" cy="302.15" r="1.2" fill="#e2402c"/>
<path d="M72.68 303.86L74.48 305.66L72.68 307.46L70.88 305.66Z" fill="#e2402c"/>
<circle cx="69.62" cy="302.17" r="1.2" fill="#e2402c"/>
<path d="M67.61 300.59L69.41 302.39L67.61 304.19L65.81 302.39Z" fill="#e2402c"/>
<text x="69.90" y="292.10" font-size="10.5" text-anchor="middle" >ab</text>
<rect x="76.00" y="302.24" width="7.2" height="54.46" fill="#7ab5d2" stroke="#4a4a4a" stroke-width="0.6"/>
<line x1="79.60" y1="302.24" x2="79.60" y2="299.96" stroke="#444" stroke-width="0.6"/>
<line x1="78.00" y1="299.96" x2="81.20" y2="299.96" stroke="#444" stroke-width="0.6"/>
<circle cx="78.71" cy="303.52" r="1.2" fill="#2b8fb8"/>
<path d="M78.25 301.26L80.05 303.06L78.25 304.86L76.45 303.06Z" fill="#2b8fb8"/>
<circle cx="79.99" cy="304.83" r="1.2" fill="#2b8fb8"/>
<path d="M79.11 298.22L80.91 300.02L79.11 301.82L77.31 300.02Z" fill="#2b8fb8"/>
<circle cx="79.12" cy="300.27" r="1.2" fill="#2b8fb8"/>
<path d="M78.69 300.14L80.49 301.94L78.69 303.74L76.89 301.94Z" fill="#2b8fb8"/>
<text x="79.60" y="295.80" font-size="10.5" text-anchor="middle" >b</text>
<rect x="92.00" y="304.33" width="7.2" height="52.37" fill="#3f7a8c" stroke="#4a4a4a" stroke-width="0.6"/>
<line x1="95.60" y1="304.33" x2="95.60" y2="302.05" stroke="#444" stroke-width="0.6"/>
<line x1="94.00" y1="302.05" x2="97.20" y2="302.05" stroke="#444" stroke-width="0.6"/>
<circle cx="93.15" cy="303.41" r="1.2" fill="#27596a"/>
<path d="M93.50 306.17L95.30 307.97L93.50 309.77L91.70 307.97Z" fill="#27596a"/>
<circle cx="95.62" cy="301.53" r="1.2" fill="#27596a"/>
<path d="M94.01 299.56L95.81 301.36L94.01 303.16L92.21 301.36Z" fill="#27596a"/>
<circle cx="94.32" cy="304.35" r="1.2" fill="#27596a"/>
<path d="M95.30 304.60L97.10 306.40L95.30 308.20L93.50 306.40Z" fill="#27596a"/>
<text x="95.60" y="296.90" font-size="10.5" text-anchor="middle" >ab</text>
<rect x="101.70" y="300.53" width="7.2" height="56.17" fill="#f8e690" stroke="#4a4a4a" stroke-width="0.6"/>
<line x1="105.30" y1="300.53" x2="105.30" y2="297.69" stroke="#444" stroke-width="0.6"/>
<line x1="103.70" y1="297.69" x2="106.90" y2="297.69" stroke="#444" stroke-width="0.6"/>
<circle cx="107.84" cy="303.56" r="1.2" fill="#f4d21f"/>
<path d="M102.62 294.50L104.42 296.30L102.62 298.10L100.82 296.30Z" fill="#f4d21f"/>
<circle cx="102.68" cy="299.16" r="1.2" fill="#f4d21f"/>
<path d="M105.15 294.18L106.95 295.98L105.15 297.78L103.35 295.98Z" fill="#f4d21f"/>
<circle cx="105.79" cy="303.09" r="1.2" fill="#f4d21f"/>
<path d="M107.69 298.74L109.49 300.54L107.69 302.34L105.89 300.54Z" fill="#f4d21f"/>
<text x="105.30" y="294.20" font-size="10.5" text-anchor="middle" >a</text>
<rect x="111.40" y="301.67" width="7.2" height="55.03" fill="#e98a7a" stroke="#4a4a4a" stroke-width="0.6"/>
<line x1="115.00" y1="301.67" x2="115.00" y2="297.88" stroke="#444" stroke-width="0.6"/>
<line x1="113.40" y1="297.88" x2="116.60" y2="297.88" stroke="#444" stroke-width="0.6"/>
<circle cx="116.82" cy="307.30" r="1.2" fill="#e2402c"/>
<path d="M113.59 293.80L115.39 295.60L113.59 297.40L111.79 295.60Z" fill="#e2402c"/>
<circle cx="112.81" cy="304.02" r="1.2" fill="#e2402c"/>
<path d="M116.02 303.30L117.82 305.10L116.02 306.90L114.22 305.10Z" fill="#e2402c"/>
<circle cx="117.47" cy="300.80" r="1.2" fill="#e2402c"/>
<path d="M116.48 295.02L118.28 296.82L116.48 298.62L114.68 296.82Z" fill="#e2402c"/>
<text x="115.00" y="292.60" font-size="10.5" text-anchor="middle" >ab</text>
<rect x="121.10" y="306.23" width="7.2" height="50.47" fill="#7ab5d2" stroke="#4a4a4a" stroke-width="0.6"/>
<line x1="124.70" y1="306.23" x2="124.70" y2="303.38" stroke="#444" stroke-width="0.6"/>
<line x1="123.10" y1="303.38" x2="126.30" y2="303.38" stroke="#444" stroke-width="0.6"/>
<circle cx="124.46" cy="305.54" r="1.2" fill="#2b8fb8"/>
<path d="M126.28 304.20L128.08 306.00L126.28 307.80L124.48 306.00Z" fill="#2b8fb8"/>
<circle cx="123.20" cy="309.46" r="1.2" fill="#2b8fb8"/>
<path d="M123.60 302.65L125.40 304.45L123.60 306.25L121.80 304.45Z" fill="#2b8fb8"/>
<circle cx="122.62" cy="306.19" r="1.2" fill="#2b8fb8"/>
<path d="M125.81 308.07L127.61 309.87L125.81 311.67L124.01 309.87Z" fill="#2b8fb8"/>
<text x="124.70" y="299.60" font-size="10.5" text-anchor="middle" >b</text>
<rect x="137.10" y="299.77" width="7.2" height="56.93" fill="#3f7a8c" stroke="#4a4a4a" stroke-width="0.6"/>
<line x1="140.70" y1="299.77" x2="140.70" y2="296.93" stroke="#444" stroke-width="0.6"/>
<line x1="139.10" y1="296.93" x2="142.30" y2="296.93" stroke="#444" stroke-width="0.6"/>
<circle cx="138.53" cy="302.60" r="1.2" fill="#27596a"/>
<path d="M141.16 299.31L142.96 301.11L141.16 302.91L139.36 301.11Z" fill="#27596a"/>
<circle cx="140.07" cy="300.35" r="1.2" fill="#27596a"/>
<path d="M137.96 301.40L139.76 303.20L137.96 305.00L136.16 303.20Z" fill="#27596a"/>
<circle cx="139.59" cy="295.22" r="1.2" fill="#27596a"/>
<path d="M141.51 299.56L143.31 301.36L141.51 303.16L139.71 301.36Z" fill="#27596a"/>
<text x="140.70" y="291.00" font-size="10.5" text-anchor="middle" >ab</text>
<rect x="146.80" y="295.79" width="7.2" height="60.91" fill="#f8e690" stroke="#4a4a4a" stroke-width="0.6"/>
<line x1="150.40" y1="295.79" x2="150.40" y2="288.58" stroke="#444" stroke-width="0.6"/>
<line x1="148.80" y1="288.58" x2="152.00" y2="288.58" stroke="#444" stroke-width="0.6"/>
<circle cx="152.55" cy="291.10" r="1.2" fill="#f4d21f"/>
<path d="M148.98 294.72L150.78 296.52L148.98 298.32L147.18 296.52Z" fill="#f4d21f"/>
<circle cx="152.98" cy="294.23" r="1.2" fill="#f4d21f"/>
<path d="M147.72 288.65L149.52 290.45L147.72 292.25L145.92 290.45Z" fill="#f4d21f"/>
<circle cx="150.39" cy="292.69" r="1.2" fill="#f4d21f"/>
<path d="M149.04 287.97L150.84 289.77L149.04 291.57L147.24 289.77Z" fill="#f4d21f"/>
<text x="150.40" y="284.00" font-size="10.5" text-anchor="middle" >a</text>
<rect x="156.50" y="302.24" width="7.2" height="54.46" fill="#e98a7a" stroke="#4a4a4a" stroke-width="0.6"/>
<line x1="160.10" y1="302.24" x2="160.10" y2="298.45" stroke="#444" stroke-width="0.6"/>
<line x1="158.50" y1="298.45" x2="161.70" y2="298.45" stroke="#444" stroke-width="0.6"/>
<circle cx="161.04" cy="304.43" r="1.2" fill="#e2402c"/>
<path d="M157.49 299.33L159.29 301.13L157.49 302.93L155.69 301.13Z" fill="#e2402c"/>
<circle cx="159.19" cy="297.70" r="1.2" fill="#e2402c"/>
<path d="M158.41 302.92L160.21 304.72L158.41 306.52L156.61 304.72Z" fill="#e2402c"/>
<circle cx="161.76" cy="301.97" r="1.2" fill="#e2402c"/>
<path d="M158.45 296.40L160.25 298.20L158.45 300.00L156.65 298.20Z" fill="#e2402c"/>
<text x="160.10" y="293.20" font-size="10.5" text-anchor="middle" >ab</text>
<rect x="166.20" y="304.52" width="7.2" height="52.18" fill="#7ab5d2" stroke="#4a4a4a" stroke-width="0.6"/>
<line x1="169.80" y1="304.52" x2="169.80" y2="302.24" stroke="#444" stroke-width="0.6"/>
<line x1="168.20" y1="302.24" x2="171.40" y2="302.24" stroke="#444" stroke-width="0.6"/>
<circle cx="172.43" cy="303.08" r="1.2" fill="#2b8fb8"/>
<path d="M168.29 306.23L170.09 308.03L168.29 309.83L166.49 308.03Z" fill="#2b8fb8"/>
<circle cx="168.24" cy="304.63" r="1.2" fill="#2b8fb8"/>
<path d="M172.33 301.01L174.13 302.81L172.33 304.61L170.53 302.81Z" fill="#2b8fb8"/>
<circle cx="169.78" cy="305.08" r="1.2" fill="#2b8fb8"/>
<path d="M169.34 304.06L171.14 305.86L169.34 307.66L167.54 305.86Z" fill="#2b8fb8"/>
<text x="169.80" y="296.90" font-size="10.5" text-anchor="middle" >b</text>
<rect x="182.20" y="297.88" width="7.2" height="58.82" fill="#3f7a8c" stroke="#4a4a4a" stroke-width="0.6"/>
<line x1="185.80" y1="297.88" x2="185.80" y2="296.74" stroke="#444" stroke-width="0.6"/>
<line x1="184.20" y1="296.74" x2="187.40" y2="296.74" stroke="#444" stroke-width="0.6"/>
<circle cx="186.73" cy="298.42" r="1.2" fill="#27596a"/>
<path d="M185.20 295.90L187.00 297.70L185.20 299.50L183.40 297.70Z" fill="#27596a"/>
<circle cx="184.19" cy="298.44" r="1.2" fill="#27596a"/>
<path d="M183.29 295.99L185.09 297.79L183.29 299.59L181.49 297.79Z" fill="#27596a"/>
<circle cx="183.34" cy="296.16" r="1.2" fill="#27596a"/>
<path d="M187.95 297.44L189.75 299.24L187.95 301.04L186.15 299.24Z" fill="#27596a"/>
<text x="185.80" y="293.70" font-size="10.5" text-anchor="middle" >a</text>
<rect x="191.90" y="296.55" width="7.2" height="60.15" fill="#f8e690" stroke="#4a4a4a" stroke-width="0.6"/>
<line x1="195.50" y1="296.55" x2="195.50" y2="288.01" stroke="#444" stroke-width="0.6"/>
<line x1="193.90" y1="288.01" x2="197.10" y2="288.01" stroke="#444" stroke-width="0.6"/>
<circle cx="196.80" cy="310.21" r="1.2" fill="#f4d21f"/>
<path d="M194.54 294.47L196.34 296.27L194.54 298.07L192.74 296.27Z" fill="#f4d21f"/>
<circle cx="193.74" cy="308.26" r="1.2" fill="#f4d21f"/>
<path d="M192.88 289.76L194.68 291.56L192.88 293.36L191.08 291.56Z" fill="#f4d21f"/>
<circle cx="196.42" cy="291.17" r="1.2" fill="#f4d21f"/>
<path d="M194.56 299.89L196.36 301.69L194.56 303.49L192.76 301.69Z" fill="#f4d21f"/>
<text x="195.50" y="282.90" font-size="10.5" text-anchor="middle" >a</text>
<rect x="201.60" y="298.45" width="7.2" height="58.25" fill="#e98a7a" stroke="#4a4a4a" stroke-width="0.6"/>
<line x1="205.20" y1="298.45" x2="205.20" y2="292.75" stroke="#444" stroke-width="0.6"/>
<line x1="203.60" y1="292.75" x2="206.80" y2="292.75" stroke="#444" stroke-width="0.6"/>
<circle cx="203.35" cy="302.60" r="1.2" fill="#e2402c"/>
<path d="M204.37 296.72L206.17 298.52L204.37 300.32L202.57 298.52Z" fill="#e2402c"/>
<circle cx="207.75" cy="307.55" r="1.2" fill="#e2402c"/>
<path d="M203.56 305.75L205.36 307.55L203.56 309.35L201.76 307.55Z" fill="#e2402c"/>
<circle cx="204.40" cy="302.58" r="1.2" fill="#e2402c"/>
<path d="M204.82 288.07L206.62 289.87L204.82 291.67L203.02 289.87Z" fill="#e2402c"/>
<text x="205.20" y="286.80" font-size="10.5" text-anchor="middle" >a</text>
<rect x="211.30" y="297.31" width="7.2" height="59.39" fill="#7ab5d2" stroke="#4a4a4a" stroke-width="0.6"/>
<line x1="214.90" y1="297.31" x2="214.90" y2="293.51" stroke="#444" stroke-width="0.6"/>
<line x1="213.30" y1="293.51" x2="216.50" y2="293.51" stroke="#444" stroke-width="0.6"/>
<circle cx="212.38" cy="294.06" r="1.2" fill="#2b8fb8"/>
<path d="M217.25 296.06L219.05 297.86L217.25 299.66L215.45 297.86Z" fill="#2b8fb8"/>
<circle cx="213.18" cy="292.52" r="1.2" fill="#2b8fb8"/>
<path d="M212.27 300.99L214.07 302.79L212.27 304.59L210.47 302.79Z" fill="#2b8fb8"/>
<circle cx="214.40" cy="299.52" r="1.2" fill="#2b8fb8"/>
<path d="M212.33 290.12L214.13 291.92L212.33 293.72L210.53 291.92Z" fill="#2b8fb8"/>
<text x="214.90" y="290.00" font-size="10.5" text-anchor="middle" >a</text>
<line x1="42.50" y1="204.90" x2="222.90" y2="204.90" stroke="#333" stroke-width="0.8"/>
<line x1="42.50" y1="204.90" x2="42.50" y2="356.70" stroke="#333" stroke-width="0.65"/>
<line x1="42.50" y1="356.70" x2="222.90" y2="356.70" stroke="#333" stroke-width="0.8"/>
<line x1="223.10" y1="204.90" x2="223.10" y2="356.70" stroke="#c4c4c4" stroke-width="1.6"/>
<text x="39.00" y="360.80" font-size="12.3" text-anchor="end" >0</text>
<line x1="42.50" y1="299.77" x2="44.70" y2="299.77" stroke="#333" stroke-width="0.65"/>
<text x="39.00" y="303.88" font-size="12.3" text-anchor="end" >30</text>
<line x1="42.50" y1="242.85" x2="44.70" y2="242.85" stroke="#333" stroke-width="0.65"/>
<text x="39.00" y="246.95" font-size="12.3" text-anchor="end" >60</text>
<text x="63.35" y="375.40" font-size="13" text-anchor="middle" >0~30</text>
<text x="110.15" y="375.40" font-size="13" text-anchor="middle" >0~10</text>
<text x="155.45" y="375.40" font-size="13" text-anchor="middle" >10~20</text>
<text x="200.35" y="375.40" font-size="13" text-anchor="middle" >20~30</text>
<text transform="translate(22.20,280.80) rotate(-90)" font-size="13" text-anchor="middle">MNC/SOC (%)</text>
<text x="0.8" y="211.40" font-size="21" font-weight="bold">d</text>
<rect x="110.70" y="228.27" width="24.4" height="29.03" fill="#a9a9a9"/>
<line x1="122.90" y1="228.57" x2="122.90" y2="226.77" stroke="#111" stroke-width="1.1"/>
<line x1="122.90" y1="257.30" x2="122.90" y2="255.50" stroke="#222" stroke-width="0.8"/>
<text x="122.90" y="224.67" font-size="10.3" text-anchor="middle" >b</text>
<text x="122.90" y="268.60" font-size="9.5" text-anchor="middle" >0～10</text>
<rect x="150.70" y="226.17" width="24.4" height="31.13" fill="#a9a9a9"/>
<line x1="162.90" y1="226.47" x2="162.90" y2="224.67" stroke="#111" stroke-width="1.1"/>
<line x1="162.90" y1="257.30" x2="162.90" y2="255.50" stroke="#222" stroke-width="0.8"/>
<text x="162.90" y="222.57" font-size="10.3" text-anchor="middle" >ab</text>
<text x="162.90" y="268.60" font-size="9.5" text-anchor="middle" >10～20</text>
<rect x="190.70" y="224.81" width="24.4" height="32.49" fill="#a9a9a9"/>
<line x1="202.90" y1="225.11" x2="202.90" y2="223.31" stroke="#111" stroke-width="1.1"/>
<line x1="202.90" y1="257.30" x2="202.90" y2="255.50" stroke="#222" stroke-width="0.8"/>
<text x="202.90" y="221.21" font-size="10.3" text-anchor="middle" >a</text>
<text x="202.90" y="268.60" font-size="9.5" text-anchor="middle" >20～30</text>
<line x1="102.90" y1="204.90" x2="102.90" y2="257.30" stroke="#333" stroke-width="0.55"/>
<line x1="102.90" y1="257.30" x2="222.90" y2="257.30" stroke="#333" stroke-width="0.65"/>
<text x="100.10" y="260.20" font-size="9" text-anchor="end" >0</text>
<line x1="102.90" y1="225.86" x2="104.90" y2="225.86" stroke="#333" stroke-width="0.65"/>
<text x="100.10" y="228.76" font-size="9" text-anchor="end" >30</text>
<line x1="222.70" y1="204.90" x2="222.70" y2="257.30" stroke="#8a8a8a" stroke-width="1.0"/>
<rect x="275.89" y="315.71" width="7.2" height="40.99" fill="#3f7a8c" stroke="#4a4a4a" stroke-width="0.6"/>
<line x1="279.49" y1="315.71" x2="279.49" y2="314.41" stroke="#444" stroke-width="0.6"/>
<line x1="277.89" y1="314.41" x2="281.09" y2="314.41" stroke="#444" stroke-width="0.6"/>
<circle cx="276.88" cy="317.80" r="1.2" fill="#27596a"/>
<path d="M278.13 314.92L279.93 316.72L278.13 318.52L276.33 316.72Z" fill="#27596a"/>
<circle cx="280.87" cy="316.57" r="1.2" fill="#27596a"/>
<path d="M278.21 313.28L280.01 315.08L278.21 316.88L276.41 315.08Z" fill="#27596a"/>
<circle cx="282.05" cy="315.04" r="1.2" fill="#27596a"/>
<path d="M280.70 313.30L282.50 315.10L280.70 316.90L278.90 315.10Z" fill="#27596a"/>
<text x="279.49" y="310.30" font-size="10.5" text-anchor="middle" >ab</text>
<rect x="285.59" y="313.33" width="7.2" height="43.37" fill="#f8e690" stroke="#4a4a4a" stroke-width="0.6"/>
<line x1="289.19" y1="313.33" x2="289.19" y2="309.86" stroke="#444" stroke-width="0.6"/>
<line x1="287.59" y1="309.86" x2="290.79" y2="309.86" stroke="#444" stroke-width="0.6"/>
<circle cx="288.16" cy="313.29" r="1.2" fill="#f4d21f"/>
<path d="M290.62 311.80L292.42 313.60L290.62 315.40L288.82 313.60Z" fill="#f4d21f"/>
<circle cx="291.52" cy="308.35" r="1.2" fill="#f4d21f"/>
<path d="M286.52 305.98L288.32 307.78L286.52 309.58L284.72 307.78Z" fill="#f4d21f"/>
<circle cx="287.70" cy="307.78" r="1.2" fill="#f4d21f"/>
<path d="M291.73 312.74L293.53 314.54L291.73 316.34L289.93 314.54Z" fill="#f4d21f"/>
<text x="289.19" y="305.00" font-size="10.5" text-anchor="middle" >a</text>
<rect x="295.29" y="317.45" width="7.2" height="39.25" fill="#e98a7a" stroke="#4a4a4a" stroke-width="0.6"/>
<line x1="298.89" y1="317.45" x2="298.89" y2="315.28" stroke="#444" stroke-width="0.6"/>
<line x1="297.29" y1="315.28" x2="300.49" y2="315.28" stroke="#444" stroke-width="0.6"/>
<circle cx="298.25" cy="317.44" r="1.2" fill="#e2402c"/>
<path d="M298.85 317.72L300.65 319.52L298.85 321.32L297.05 319.52Z" fill="#e2402c"/>
<circle cx="301.28" cy="318.89" r="1.2" fill="#e2402c"/>
<path d="M300.22 318.86L302.02 320.66L300.22 322.46L298.42 320.66Z" fill="#e2402c"/>
<circle cx="300.69" cy="317.83" r="1.2" fill="#e2402c"/>
<path d="M297.92 313.01L299.72 314.81L297.92 316.61L296.12 314.81Z" fill="#e2402c"/>
<text x="298.89" y="310.60" font-size="10.5" text-anchor="middle" >ab</text>
<rect x="304.99" y="318.10" width="7.2" height="38.60" fill="#7ab5d2" stroke="#4a4a4a" stroke-width="0.6"/>
<line x1="308.59" y1="318.10" x2="308.59" y2="315.93" stroke="#444" stroke-width="0.6"/>
<line x1="306.99" y1="315.93" x2="310.19" y2="315.93" stroke="#444" stroke-width="0.6"/>
<circle cx="307.58" cy="315.90" r="1.2" fill="#2b8fb8"/>
<path d="M306.23 318.90L308.03 320.70L306.23 322.50L304.43 320.70Z" fill="#2b8fb8"/>
<circle cx="306.89" cy="318.13" r="1.2" fill="#2b8fb8"/>
<path d="M306.15 314.83L307.95 316.63L306.15 318.43L304.35 316.63Z" fill="#2b8fb8"/>
<circle cx="305.98" cy="316.46" r="1.2" fill="#2b8fb8"/>
<path d="M311.28 315.74L313.08 317.54L311.28 319.34L309.48 317.54Z" fill="#2b8fb8"/>
<text x="308.59" y="312.20" font-size="10.5" text-anchor="middle" >b</text>
<rect x="321.16" y="319.40" width="7.2" height="37.30" fill="#3f7a8c" stroke="#4a4a4a" stroke-width="0.6"/>
<line x1="324.76" y1="319.40" x2="324.76" y2="317.67" stroke="#444" stroke-width="0.6"/>
<line x1="323.16" y1="317.67" x2="326.36" y2="317.67" stroke="#444" stroke-width="0.6"/>
<circle cx="326.91" cy="320.62" r="1.2" fill="#27596a"/>
<path d="M322.43 317.51L324.23 319.31L322.43 321.11L320.63 319.31Z" fill="#27596a"/>
<circle cx="322.50" cy="316.94" r="1.2" fill="#27596a"/>
<path d="M324.47 317.62L326.27 319.42L324.47 321.22L322.67 319.42Z" fill="#27596a"/>
<circle cx="323.27" cy="317.52" r="1.2" fill="#27596a"/>
<path d="M325.74 318.68L327.54 320.48L325.74 322.28L323.94 320.48Z" fill="#27596a"/>
<text x="324.76" y="313.00" font-size="10.5" text-anchor="middle" >a</text>
<rect x="330.86" y="317.45" width="7.2" height="39.25" fill="#f8e690" stroke="#4a4a4a" stroke-width="0.6"/>
<line x1="334.46" y1="317.45" x2="334.46" y2="315.28" stroke="#444" stroke-width="0.6"/>
<line x1="332.86" y1="315.28" x2="336.06" y2="315.28" stroke="#444" stroke-width="0.6"/>
<circle cx="335.85" cy="319.10" r="1.2" fill="#f4d21f"/>
<path d="M332.34 313.28L334.14 315.08L332.34 316.88L330.54 315.08Z" fill="#f4d21f"/>
<circle cx="336.37" cy="316.76" r="1.2" fill="#f4d21f"/>
<path d="M333.75 318.08L335.55 319.88L333.75 321.68L331.95 319.88Z" fill="#f4d21f"/>
<circle cx="335.80" cy="317.91" r="1.2" fill="#f4d21f"/>
<path d="M333.04 317.05L334.84 318.85L333.04 320.65L331.24 318.85Z" fill="#f4d21f"/>
<text x="334.46" y="310.60" font-size="10.5" text-anchor="middle" >a</text>
<rect x="340.56" y="319.40" width="7.2" height="37.30" fill="#e98a7a" stroke="#4a4a4a" stroke-width="0.6"/>
<line x1="344.16" y1="319.40" x2="344.16" y2="316.80" stroke="#444" stroke-width="0.6"/>
<line x1="342.56" y1="316.80" x2="345.76" y2="316.80" stroke="#444" stroke-width="0.6"/>
<circle cx="342.22" cy="321.70" r="1.2" fill="#e2402c"/>
<path d="M343.19 315.55L344.99 317.35L343.19 319.15L341.39 317.35Z" fill="#e2402c"/>
<circle cx="343.58" cy="322.18" r="1.2" fill="#e2402c"/>
<path d="M342.66 317.47L344.46 319.27L342.66 321.07L340.86 319.27Z" fill="#e2402c"/>
<circle cx="345.89" cy="315.30" r="1.2" fill="#e2402c"/>
<path d="M341.94 313.44L343.74 315.24L341.94 317.04L340.14 315.24Z" fill="#e2402c"/>
<text x="344.16" y="313.50" font-size="10.5" text-anchor="middle" >a</text>
<rect x="350.26" y="321.79" width="7.2" height="34.91" fill="#7ab5d2" stroke="#4a4a4a" stroke-width="0.6"/>
<line x1="353.86" y1="321.79" x2="353.86" y2="318.53" stroke="#444" stroke-width="0.6"/>
<line x1="352.26" y1="318.53" x2="355.46" y2="318.53" stroke="#444" stroke-width="0.6"/>
<circle cx="353.72" cy="324.15" r="1.2" fill="#2b8fb8"/>
<path d="M356.18 314.90L357.98 316.70L356.18 318.50L354.38 316.70Z" fill="#2b8fb8"/>
<circle cx="351.29" cy="321.39" r="1.2" fill="#2b8fb8"/>
<path d="M352.12 321.41L353.92 323.21L352.12 325.01L350.32 323.21Z" fill="#2b8fb8"/>
<circle cx="356.51" cy="316.58" r="1.2" fill="#2b8fb8"/>
<path d="M353.15 316.61L354.95 318.41L353.15 320.21L351.35 318.41Z" fill="#2b8fb8"/>
<text x="353.86" y="314.60" font-size="10.5" text-anchor="middle" >a</text>
<rect x="366.44" y="314.20" width="7.2" height="42.50" fill="#3f7a8c" stroke="#4a4a4a" stroke-width="0.6"/>
<line x1="370.04" y1="314.20" x2="370.04" y2="311.59" stroke="#444" stroke-width="0.6"/>
<line x1="368.44" y1="311.59" x2="371.64" y2="311.59" stroke="#444" stroke-width="0.6"/>
<circle cx="372.09" cy="312.47" r="1.2" fill="#27596a"/>
<path d="M371.59 312.97L373.39 314.77L371.59 316.57L369.79 314.77Z" fill="#27596a"/>
<circle cx="372.53" cy="316.68" r="1.2" fill="#27596a"/>
<path d="M370.71 314.34L372.51 316.14L370.71 317.94L368.91 316.14Z" fill="#27596a"/>
<circle cx="368.46" cy="313.32" r="1.2" fill="#27596a"/>
<path d="M368.38 313.35L370.18 315.15L368.38 316.95L366.58 315.15Z" fill="#27596a"/>
<text x="370.04" y="307.40" font-size="10.5" text-anchor="middle" >ab</text>
<rect x="376.14" y="311.81" width="7.2" height="44.89" fill="#f8e690" stroke="#4a4a4a" stroke-width="0.6"/>
<line x1="379.74" y1="311.81" x2="379.74" y2="306.39" stroke="#444" stroke-width="0.6"/>
<line x1="378.14" y1="306.39" x2="381.34" y2="306.39" stroke="#444" stroke-width="0.6"/>
<circle cx="378.37" cy="306.06" r="1.2" fill="#f4d21f"/>
<path d="M378.08 305.87L379.88 307.67L378.08 309.47L376.28 307.67Z" fill="#f4d21f"/>
<circle cx="377.00" cy="308.38" r="1.2" fill="#f4d21f"/>
<path d="M377.97 316.51L379.77 318.31L377.97 320.11L376.17 318.31Z" fill="#f4d21f"/>
<circle cx="378.69" cy="314.32" r="1.2" fill="#f4d21f"/>
<path d="M380.01 318.33L381.81 320.13L380.01 321.93L378.21 320.13Z" fill="#f4d21f"/>
<text x="379.74" y="300.10" font-size="10.5" text-anchor="middle" >a</text>
<rect x="385.84" y="318.53" width="7.2" height="38.17" fill="#e98a7a" stroke="#4a4a4a" stroke-width="0.6"/>
<line x1="389.44" y1="318.53" x2="389.44" y2="315.28" stroke="#444" stroke-width="0.6"/>
<line x1="387.84" y1="315.28" x2="391.04" y2="315.28" stroke="#444" stroke-width="0.6"/>
<circle cx="386.99" cy="320.89" r="1.2" fill="#e2402c"/>
<path d="M389.72 318.48L391.52 320.28L389.72 322.08L387.92 320.28Z" fill="#e2402c"/>
<circle cx="390.22" cy="320.00" r="1.2" fill="#e2402c"/>
<path d="M390.53 317.68L392.33 319.48L390.53 321.28L388.73 319.48Z" fill="#e2402c"/>
<circle cx="388.93" cy="318.01" r="1.2" fill="#e2402c"/>
<path d="M391.98 319.19L393.78 320.99L391.98 322.79L390.18 320.99Z" fill="#e2402c"/>
<text x="389.44" y="310.60" font-size="10.5" text-anchor="middle" >b</text>
<rect x="395.54" y="319.83" width="7.2" height="36.87" fill="#7ab5d2" stroke="#4a4a4a" stroke-width="0.6"/>
<line x1="399.14" y1="319.83" x2="399.14" y2="318.10" stroke="#444" stroke-width="0.6"/>
<line x1="397.54" y1="318.10" x2="400.74" y2="318.10" stroke="#444" stroke-width="0.6"/>
<circle cx="398.09" cy="318.49" r="1.2" fill="#2b8fb8"/>
<path d="M398.67 317.44L400.47 319.24L398.67 321.04L396.87 319.24Z" fill="#2b8fb8"/>
<circle cx="401.18" cy="321.32" r="1.2" fill="#2b8fb8"/>
<path d="M397.44 318.00L399.24 319.80L397.44 321.60L395.64 319.80Z" fill="#2b8fb8"/>
<circle cx="400.41" cy="319.88" r="1.2" fill="#2b8fb8"/>
<path d="M401.39 318.20L403.19 320.00L401.39 321.80L399.59 320.00Z" fill="#2b8fb8"/>
<text x="399.14" y="313.50" font-size="10.5" text-anchor="middle" >b</text>
<rect x="411.71" y="313.33" width="7.2" height="43.37" fill="#3f7a8c" stroke="#4a4a4a" stroke-width="0.6"/>
<line x1="415.31" y1="313.33" x2="415.31" y2="312.03" stroke="#444" stroke-width="0.6"/>
<line x1="413.71" y1="312.03" x2="416.91" y2="312.03" stroke="#444" stroke-width="0.6"/>
<circle cx="414.89" cy="313.84" r="1.2" fill="#27596a"/>
<path d="M417.46 310.45L419.26 312.25L417.46 314.05L415.66 312.25Z" fill="#27596a"/>
<circle cx="415.09" cy="313.43" r="1.2" fill="#27596a"/>
<path d="M415.60 311.70L417.40 313.50L415.60 315.30L413.80 313.50Z" fill="#27596a"/>
<circle cx="416.10" cy="313.76" r="1.2" fill="#27596a"/>
<path d="M416.00 311.26L417.80 313.06L416.00 314.86L414.20 313.06Z" fill="#27596a"/>
<text x="415.31" y="308.70" font-size="10.5" text-anchor="middle" >a</text>
<rect x="421.41" y="311.38" width="7.2" height="45.32" fill="#f8e690" stroke="#4a4a4a" stroke-width="0.6"/>
<line x1="425.01" y1="311.38" x2="425.01" y2="304.87" stroke="#444" stroke-width="0.6"/>
<line x1="423.41" y1="304.87" x2="426.61" y2="304.87" stroke="#444" stroke-width="0.6"/>
<circle cx="424.29" cy="308.09" r="1.2" fill="#f4d21f"/>
<path d="M423.80 309.48L425.60 311.28L423.80 313.08L422.00 311.28Z" fill="#f4d21f"/>
<circle cx="425.13" cy="313.88" r="1.2" fill="#f4d21f"/>
<path d="M424.96 308.31L426.76 310.11L424.96 311.91L423.16 310.11Z" fill="#f4d21f"/>
<circle cx="426.72" cy="315.18" r="1.2" fill="#f4d21f"/>
<path d="M422.92 308.77L424.72 310.57L422.92 312.37L421.12 310.57Z" fill="#f4d21f"/>
<text x="425.01" y="300.90" font-size="10.5" text-anchor="middle" >a</text>
<rect x="431.11" y="313.33" width="7.2" height="43.37" fill="#e98a7a" stroke="#4a4a4a" stroke-width="0.6"/>
<line x1="434.71" y1="313.33" x2="434.71" y2="308.99" stroke="#444" stroke-width="0.6"/>
<line x1="433.11" y1="308.99" x2="436.31" y2="308.99" stroke="#444" stroke-width="0.6"/>
<circle cx="437.19" cy="317.76" r="1.2" fill="#e2402c"/>
<path d="M432.21 310.84L434.01 312.64L432.21 314.44L430.41 312.64Z" fill="#e2402c"/>
<circle cx="437.10" cy="306.89" r="1.2" fill="#e2402c"/>
<path d="M435.39 317.00L437.19 318.80L435.39 320.60L433.59 318.80Z" fill="#e2402c"/>
<circle cx="436.53" cy="316.99" r="1.2" fill="#e2402c"/>
<path d="M433.16 317.32L434.96 319.12L433.16 320.92L431.36 319.12Z" fill="#e2402c"/>
<text x="434.71" y="305.40" font-size="10.5" text-anchor="middle" >a</text>
<rect x="440.81" y="312.24" width="7.2" height="44.46" fill="#7ab5d2" stroke="#4a4a4a" stroke-width="0.6"/>
<line x1="444.41" y1="312.24" x2="444.41" y2="308.99" stroke="#444" stroke-width="0.6"/>
<line x1="442.81" y1="308.99" x2="446.01" y2="308.99" stroke="#444" stroke-width="0.6"/>
<circle cx="443.88" cy="315.38" r="1.2" fill="#2b8fb8"/>
<path d="M442.64 305.92L444.44 307.72L442.64 309.52L440.84 307.72Z" fill="#2b8fb8"/>
<circle cx="442.83" cy="309.39" r="1.2" fill="#2b8fb8"/>
<path d="M443.76 312.53L445.56 314.33L443.76 316.13L441.96 314.33Z" fill="#2b8fb8"/>
<circle cx="442.30" cy="312.33" r="1.2" fill="#2b8fb8"/>
<path d="M446.64 315.15L448.44 316.95L446.64 318.75L444.84 316.95Z" fill="#2b8fb8"/>
<text x="444.41" y="305.40" font-size="10.5" text-anchor="middle" >a</text>
<line x1="271.40" y1="204.90" x2="452.50" y2="204.90" stroke="#333" stroke-width="0.8"/>
<line x1="271.40" y1="204.90" x2="271.40" y2="356.70" stroke="#333" stroke-width="0.65"/>
<line x1="271.40" y1="356.70" x2="452.50" y2="356.70" stroke="#333" stroke-width="0.8"/>
<line x1="452.70" y1="204.90" x2="452.70" y2="356.70" stroke="#c4c4c4" stroke-width="1.6"/>
<text x="267.90" y="360.80" font-size="12.3" text-anchor="end" >0</text>
<line x1="271.40" y1="313.33" x2="273.60" y2="313.33" stroke="#333" stroke-width="0.65"/>
<text x="267.90" y="317.43" font-size="12.3" text-anchor="end" >20</text>
<line x1="271.40" y1="269.96" x2="273.60" y2="269.96" stroke="#333" stroke-width="0.65"/>
<text x="267.90" y="274.06" font-size="12.3" text-anchor="end" >40</text>
<line x1="271.40" y1="226.59" x2="273.60" y2="226.59" stroke="#333" stroke-width="0.65"/>
<text x="267.90" y="230.69" font-size="12.3" text-anchor="end" >60</text>
<text x="295.94" y="375.40" font-size="13" text-anchor="middle" >0~30</text>
<text x="340.71" y="375.40" font-size="13" text-anchor="middle" >0~10</text>
<text x="384.59" y="375.40" font-size="13" text-anchor="middle" >10~20</text>
<text x="430.66" y="375.40" font-size="13" text-anchor="middle" >20~30</text>
<text transform="translate(252.40,280.80) rotate(-90)" font-size="13" text-anchor="middle">FNC/SOC (%)</text>
<text x="228.5" y="211.40" font-size="21" font-weight="bold">e</text>
<rect x="339.72" y="235.29" width="24.4" height="22.01" fill="#a9a9a9"/>
<line x1="351.92" y1="235.59" x2="351.92" y2="233.79" stroke="#111" stroke-width="1.1"/>
<line x1="351.92" y1="257.30" x2="351.92" y2="255.50" stroke="#222" stroke-width="0.8"/>
<text x="351.92" y="231.69" font-size="10.3" text-anchor="middle" >c</text>
<text x="351.92" y="268.60" font-size="9.5" text-anchor="middle" >0～10</text>
<rect x="379.95" y="233.33" width="24.4" height="23.97" fill="#a9a9a9"/>
<line x1="392.15" y1="233.63" x2="392.15" y2="231.83" stroke="#111" stroke-width="1.1"/>
<line x1="392.15" y1="257.30" x2="392.15" y2="255.50" stroke="#222" stroke-width="0.8"/>
<text x="392.15" y="229.73" font-size="10.3" text-anchor="middle" >b</text>
<text x="392.15" y="268.60" font-size="9.5" text-anchor="middle" >10～20</text>
<rect x="420.18" y="231.62" width="24.4" height="25.68" fill="#a9a9a9"/>
<line x1="432.38" y1="231.92" x2="432.38" y2="230.12" stroke="#111" stroke-width="1.1"/>
<line x1="432.38" y1="257.30" x2="432.38" y2="255.50" stroke="#222" stroke-width="0.8"/>
<text x="432.38" y="228.02" font-size="10.3" text-anchor="middle" >a</text>
<text x="432.38" y="268.60" font-size="9.5" text-anchor="middle" >20～30</text>
<line x1="331.80" y1="204.90" x2="331.80" y2="257.30" stroke="#333" stroke-width="0.55"/>
<line x1="331.80" y1="257.30" x2="452.50" y2="257.30" stroke="#333" stroke-width="0.65"/>
<text x="329.00" y="260.20" font-size="9" text-anchor="end" >0</text>
<line x1="331.80" y1="218.00" x2="333.80" y2="218.00" stroke="#333" stroke-width="0.65"/>
<text x="329.00" y="220.90" font-size="9" text-anchor="end" >30</text>
<line x1="452.30" y1="204.90" x2="452.30" y2="257.30" stroke="#8a8a8a" stroke-width="1.0"/>
<rect x="508.15" y="324.21" width="7.2" height="32.49" fill="#3f7a8c" stroke="#4a4a4a" stroke-width="0.6"/>
<line x1="511.75" y1="324.21" x2="511.75" y2="323.00" stroke="#444" stroke-width="0.6"/>
<line x1="510.15" y1="323.00" x2="513.35" y2="323.00" stroke="#444" stroke-width="0.6"/>
<circle cx="509.18" cy="322.51" r="1.2" fill="#27596a"/>
<path d="M509.16 321.71L510.96 323.51L509.16 325.31L507.36 323.51Z" fill="#27596a"/>
<circle cx="513.64" cy="325.31" r="1.2" fill="#27596a"/>
<path d="M512.03 323.41L513.83 325.21L512.03 327.01L510.23 325.21Z" fill="#27596a"/>
<circle cx="512.46" cy="323.82" r="1.2" fill="#27596a"/>
<path d="M512.21 323.49L514.01 325.29L512.21 327.09L510.41 325.29Z" fill="#27596a"/>
<text x="511.75" y="319.20" font-size="10.5" text-anchor="middle" >a</text>
<rect x="517.85" y="322.70" width="7.2" height="34.00" fill="#f8e690" stroke="#4a4a4a" stroke-width="0.6"/>
<line x1="521.45" y1="322.70" x2="521.45" y2="320.57" stroke="#444" stroke-width="0.6"/>
<line x1="519.85" y1="320.57" x2="523.05" y2="320.57" stroke="#444" stroke-width="0.6"/>
<circle cx="521.03" cy="321.57" r="1.2" fill="#f4d21f"/>
<path d="M521.10 319.15L522.90 320.95L521.10 322.75L519.30 320.95Z" fill="#f4d21f"/>
<circle cx="518.78" cy="321.07" r="1.2" fill="#f4d21f"/>
<path d="M519.97 319.39L521.77 321.19L519.97 322.99L518.17 321.19Z" fill="#f4d21f"/>
<circle cx="522.93" cy="323.09" r="1.2" fill="#f4d21f"/>
<path d="M519.66 318.82L521.46 320.62L519.66 322.42L517.86 320.62Z" fill="#f4d21f"/>
<text x="521.45" y="316.30" font-size="10.5" text-anchor="middle" >a</text>
<rect x="527.55" y="323.30" width="7.2" height="33.40" fill="#e98a7a" stroke="#4a4a4a" stroke-width="0.6"/>
<line x1="531.15" y1="323.30" x2="531.15" y2="320.27" stroke="#444" stroke-width="0.6"/>
<line x1="529.55" y1="320.27" x2="532.75" y2="320.27" stroke="#444" stroke-width="0.6"/>
<circle cx="531.00" cy="324.42" r="1.2" fill="#e2402c"/>
<path d="M530.76 322.40L532.56 324.20L530.76 326.00L528.96 324.20Z" fill="#e2402c"/>
<circle cx="528.86" cy="320.25" r="1.2" fill="#e2402c"/>
<path d="M528.58 322.67L530.38 324.47L528.58 326.27L526.78 324.47Z" fill="#e2402c"/>
<circle cx="531.91" cy="327.17" r="1.2" fill="#e2402c"/>
<path d="M532.70 323.70L534.50 325.50L532.70 327.30L530.90 325.50Z" fill="#e2402c"/>
<text x="531.15" y="315.50" font-size="10.5" text-anchor="middle" >a</text>
<rect x="537.25" y="324.21" width="7.2" height="32.49" fill="#7ab5d2" stroke="#4a4a4a" stroke-width="0.6"/>
<line x1="540.85" y1="324.21" x2="540.85" y2="323.00" stroke="#444" stroke-width="0.6"/>
<line x1="539.25" y1="323.00" x2="542.45" y2="323.00" stroke="#444" stroke-width="0.6"/>
<circle cx="540.91" cy="325.43" r="1.2" fill="#2b8fb8"/>
<path d="M540.17 322.85L541.97 324.65L540.17 326.45L538.37 324.65Z" fill="#2b8fb8"/>
<circle cx="543.37" cy="325.63" r="1.2" fill="#2b8fb8"/>
<path d="M543.63 324.04L545.43 325.84L543.63 327.64L541.83 325.84Z" fill="#2b8fb8"/>
<circle cx="542.15" cy="324.50" r="1.2" fill="#2b8fb8"/>
<path d="M543.55 321.76L545.35 323.56L543.55 325.36L541.75 323.56Z" fill="#2b8fb8"/>
<text x="540.85" y="318.50" font-size="10.5" text-anchor="middle" >a</text>
<rect x="553.35" y="324.82" width="7.2" height="31.88" fill="#3f7a8c" stroke="#4a4a4a" stroke-width="0.6"/>
<line x1="556.95" y1="324.82" x2="556.95" y2="323.61" stroke="#444" stroke-width="0.6"/>
<line x1="555.35" y1="323.61" x2="558.55" y2="323.61" stroke="#444" stroke-width="0.6"/>
<circle cx="556.90" cy="326.77" r="1.2" fill="#27596a"/>
<path d="M555.07 322.37L556.87 324.17L555.07 325.97L553.27 324.17Z" fill="#27596a"/>
<circle cx="558.56" cy="325.19" r="1.2" fill="#27596a"/>
<path d="M556.12 322.85L557.92 324.65L556.12 326.45L554.32 324.65Z" fill="#27596a"/>
<circle cx="558.38" cy="326.08" r="1.2" fill="#27596a"/>
<path d="M555.69 324.97L557.49 326.77L555.69 328.57L553.89 326.77Z" fill="#27596a"/>
<text x="556.95" y="318.50" font-size="10.5" text-anchor="middle" >b</text>
<rect x="563.05" y="322.70" width="7.2" height="34.00" fill="#f8e690" stroke="#4a4a4a" stroke-width="0.6"/>
<line x1="566.65" y1="322.70" x2="566.65" y2="321.18" stroke="#444" stroke-width="0.6"/>
<line x1="565.05" y1="321.18" x2="568.25" y2="321.18" stroke="#444" stroke-width="0.6"/>
<circle cx="568.42" cy="323.70" r="1.2" fill="#f4d21f"/>
<path d="M569.00 322.16L570.80 323.96L569.00 325.76L567.20 323.96Z" fill="#f4d21f"/>
<circle cx="565.02" cy="322.57" r="1.2" fill="#f4d21f"/>
<path d="M565.64 322.51L567.44 324.31L565.64 326.11L563.84 324.31Z" fill="#f4d21f"/>
<circle cx="564.06" cy="323.03" r="1.2" fill="#f4d21f"/>
<path d="M569.09 321.63L570.89 323.43L569.09 325.23L567.29 323.43Z" fill="#f4d21f"/>
<text x="566.65" y="317.00" font-size="10.5" text-anchor="middle" >ab</text>
<rect x="572.75" y="321.48" width="7.2" height="35.22" fill="#e98a7a" stroke="#4a4a4a" stroke-width="0.6"/>
<line x1="576.35" y1="321.48" x2="576.35" y2="318.45" stroke="#444" stroke-width="0.6"/>
<line x1="574.75" y1="318.45" x2="577.95" y2="318.45" stroke="#444" stroke-width="0.6"/>
<circle cx="577.36" cy="322.80" r="1.2" fill="#e2402c"/>
<path d="M577.95 318.67L579.75 320.47L577.95 322.27L576.15 320.47Z" fill="#e2402c"/>
<circle cx="574.19" cy="317.67" r="1.2" fill="#e2402c"/>
<path d="M575.56 318.94L577.36 320.74L575.56 322.54L573.76 320.74Z" fill="#e2402c"/>
<circle cx="578.44" cy="318.10" r="1.2" fill="#e2402c"/>
<path d="M578.49 318.46L580.29 320.26L578.49 322.06L576.69 320.26Z" fill="#e2402c"/>
<text x="576.35" y="315.50" font-size="10.5" text-anchor="middle" >a</text>
<rect x="582.45" y="324.82" width="7.2" height="31.88" fill="#7ab5d2" stroke="#4a4a4a" stroke-width="0.6"/>
<line x1="586.05" y1="324.82" x2="586.05" y2="323.91" stroke="#444" stroke-width="0.6"/>
<line x1="584.45" y1="323.91" x2="587.65" y2="323.91" stroke="#444" stroke-width="0.6"/>
<circle cx="583.84" cy="325.98" r="1.2" fill="#2b8fb8"/>
<path d="M585.46 322.97L587.26 324.77L585.46 326.57L583.66 324.77Z" fill="#2b8fb8"/>
<circle cx="587.72" cy="324.59" r="1.2" fill="#2b8fb8"/>
<path d="M586.48 324.48L588.28 326.28L586.48 328.08L584.68 326.28Z" fill="#2b8fb8"/>
<circle cx="585.27" cy="324.90" r="1.2" fill="#2b8fb8"/>
<path d="M584.24 322.14L586.04 323.94L584.24 325.74L582.44 323.94Z" fill="#2b8fb8"/>
<text x="586.05" y="319.90" font-size="10.5" text-anchor="middle" >b</text>
<rect x="598.55" y="324.82" width="7.2" height="31.88" fill="#3f7a8c" stroke="#4a4a4a" stroke-width="0.6"/>
<line x1="602.15" y1="324.82" x2="602.15" y2="323.30" stroke="#444" stroke-width="0.6"/>
<line x1="600.55" y1="323.30" x2="603.75" y2="323.30" stroke="#444" stroke-width="0.6"/>
<circle cx="603.51" cy="327.24" r="1.2" fill="#27596a"/>
<path d="M600.77 323.78L602.57 325.58L600.77 327.38L598.97 325.58Z" fill="#27596a"/>
<circle cx="602.93" cy="326.63" r="1.2" fill="#27596a"/>
<path d="M603.07 322.84L604.87 324.64L603.07 326.44L601.27 324.64Z" fill="#27596a"/>
<circle cx="601.10" cy="325.18" r="1.2" fill="#27596a"/>
<path d="M600.19 323.03L601.99 324.83L600.19 326.63L598.39 324.83Z" fill="#27596a"/>
<text x="602.15" y="318.00" font-size="10.5" text-anchor="middle" >a</text>
<rect x="608.25" y="322.09" width="7.2" height="34.61" fill="#f8e690" stroke="#4a4a4a" stroke-width="0.6"/>
<line x1="611.85" y1="322.09" x2="611.85" y2="317.84" stroke="#444" stroke-width="0.6"/>
<line x1="610.25" y1="317.84" x2="613.45" y2="317.84" stroke="#444" stroke-width="0.6"/>
<circle cx="612.50" cy="317.91" r="1.2" fill="#f4d21f"/>
<path d="M614.07 322.18L615.87 323.98L614.07 325.78L612.27 323.98Z" fill="#f4d21f"/>
<circle cx="609.79" cy="322.88" r="1.2" fill="#f4d21f"/>
<path d="M609.17 325.80L610.97 327.60L609.17 329.40L607.37 327.60Z" fill="#f4d21f"/>
<circle cx="609.06" cy="320.98" r="1.2" fill="#f4d21f"/>
<path d="M611.05 321.72L612.85 323.52L611.05 325.32L609.25 323.52Z" fill="#f4d21f"/>
<text x="611.85" y="311.60" font-size="10.5" text-anchor="middle" >a</text>
<rect x="617.95" y="323.30" width="7.2" height="33.40" fill="#e98a7a" stroke="#4a4a4a" stroke-width="0.6"/>
<line x1="621.55" y1="323.30" x2="621.55" y2="320.88" stroke="#444" stroke-width="0.6"/>
<line x1="619.95" y1="320.88" x2="623.15" y2="320.88" stroke="#444" stroke-width="0.6"/>
<circle cx="620.01" cy="320.78" r="1.2" fill="#e2402c"/>
<path d="M619.89 320.04L621.69 321.84L619.89 323.64L618.09 321.84Z" fill="#e2402c"/>
<circle cx="622.24" cy="322.14" r="1.2" fill="#e2402c"/>
<path d="M623.99 321.69L625.79 323.49L623.99 325.29L622.19 323.49Z" fill="#e2402c"/>
<circle cx="620.11" cy="323.88" r="1.2" fill="#e2402c"/>
<path d="M622.32 322.30L624.12 324.10L622.32 325.90L620.52 324.10Z" fill="#e2402c"/>
<text x="621.55" y="314.10" font-size="10.5" text-anchor="middle" >a</text>
<rect x="627.65" y="323.61" width="7.2" height="33.09" fill="#7ab5d2" stroke="#4a4a4a" stroke-width="0.6"/>
<line x1="631.25" y1="323.61" x2="631.25" y2="322.09" stroke="#444" stroke-width="0.6"/>
<line x1="629.65" y1="322.09" x2="632.85" y2="322.09" stroke="#444" stroke-width="0.6"/>
<circle cx="633.33" cy="323.89" r="1.2" fill="#2b8fb8"/>
<path d="M629.93 320.45L631.73 322.25L629.93 324.05L628.13 322.25Z" fill="#2b8fb8"/>
<circle cx="628.51" cy="322.53" r="1.2" fill="#2b8fb8"/>
<path d="M630.41 320.42L632.21 322.22L630.41 324.02L628.61 322.22Z" fill="#2b8fb8"/>
<circle cx="632.07" cy="321.18" r="1.2" fill="#2b8fb8"/>
<path d="M632.56 322.92L634.36 324.72L632.56 326.52L630.76 324.72Z" fill="#2b8fb8"/>
<text x="631.25" y="317.70" font-size="10.5" text-anchor="middle" >a</text>
<rect x="643.75" y="324.67" width="7.2" height="32.03" fill="#3f7a8c" stroke="#4a4a4a" stroke-width="0.6"/>
<line x1="647.35" y1="324.67" x2="647.35" y2="322.55" stroke="#444" stroke-width="0.6"/>
<line x1="645.75" y1="322.55" x2="648.95" y2="322.55" stroke="#444" stroke-width="0.6"/>
<circle cx="645.94" cy="325.14" r="1.2" fill="#27596a"/>
<path d="M647.53 322.54L649.33 324.34L647.53 326.14L645.73 324.34Z" fill="#27596a"/>
<circle cx="646.82" cy="324.72" r="1.2" fill="#27596a"/>
<path d="M648.91 323.53L650.71 325.33L648.91 327.13L647.11 325.33Z" fill="#27596a"/>
<circle cx="644.62" cy="321.27" r="1.2" fill="#27596a"/>
<path d="M645.35 321.44L647.15 323.24L645.35 325.04L643.55 323.24Z" fill="#27596a"/>
<text x="647.35" y="316.30" font-size="10.5" text-anchor="middle" >a</text>
<rect x="653.45" y="323.61" width="7.2" height="33.09" fill="#f8e690" stroke="#4a4a4a" stroke-width="0.6"/>
<line x1="657.05" y1="323.61" x2="657.05" y2="320.57" stroke="#444" stroke-width="0.6"/>
<line x1="655.45" y1="320.57" x2="658.65" y2="320.57" stroke="#444" stroke-width="0.6"/>
<circle cx="655.37" cy="321.08" r="1.2" fill="#f4d21f"/>
<path d="M657.84 319.77L659.64 321.57L657.84 323.37L656.04 321.57Z" fill="#f4d21f"/>
<circle cx="658.80" cy="324.68" r="1.2" fill="#f4d21f"/>
<path d="M655.93 323.90L657.73 325.70L655.93 327.50L654.13 325.70Z" fill="#f4d21f"/>
<circle cx="654.52" cy="327.28" r="1.2" fill="#f4d21f"/>
<path d="M658.26 318.75L660.06 320.55L658.26 322.35L656.46 320.55Z" fill="#f4d21f"/>
<text x="657.05" y="314.80" font-size="10.5" text-anchor="middle" >a</text>
<rect x="663.15" y="324.67" width="7.2" height="32.03" fill="#e98a7a" stroke="#4a4a4a" stroke-width="0.6"/>
<line x1="666.75" y1="324.67" x2="666.75" y2="320.12" stroke="#444" stroke-width="0.6"/>
<line x1="665.15" y1="320.12" x2="668.35" y2="320.12" stroke="#444" stroke-width="0.6"/>
<circle cx="663.99" cy="328.46" r="1.2" fill="#e2402c"/>
<path d="M666.56 317.25L668.36 319.05L666.56 320.85L664.76 319.05Z" fill="#e2402c"/>
<circle cx="668.10" cy="321.87" r="1.2" fill="#e2402c"/>
<path d="M664.54 323.73L666.34 325.53L664.54 327.33L662.74 325.53Z" fill="#e2402c"/>
<circle cx="665.25" cy="328.27" r="1.2" fill="#e2402c"/>
<path d="M668.15 323.77L669.95 325.57L668.15 327.37L666.35 325.57Z" fill="#e2402c"/>
<text x="666.75" y="312.60" font-size="10.5" text-anchor="middle" >a</text>
<rect x="672.85" y="323.30" width="7.2" height="33.40" fill="#7ab5d2" stroke="#4a4a4a" stroke-width="0.6"/>
<line x1="676.45" y1="323.30" x2="676.45" y2="322.09" stroke="#444" stroke-width="0.6"/>
<line x1="674.85" y1="322.09" x2="678.05" y2="322.09" stroke="#444" stroke-width="0.6"/>
<circle cx="677.54" cy="324.28" r="1.2" fill="#2b8fb8"/>
<path d="M675.14 320.08L676.94 321.88L675.14 323.68L673.34 321.88Z" fill="#2b8fb8"/>
<circle cx="676.75" cy="321.53" r="1.2" fill="#2b8fb8"/>
<path d="M676.58 322.26L678.38 324.06L676.58 325.86L674.78 324.06Z" fill="#2b8fb8"/>
<circle cx="675.14" cy="321.53" r="1.2" fill="#2b8fb8"/>
<path d="M674.87 319.56L676.67 321.36L674.87 323.16L673.07 321.36Z" fill="#2b8fb8"/>
<text x="676.45" y="316.00" font-size="10.5" text-anchor="middle" >a</text>
<line x1="503.70" y1="204.90" x2="684.50" y2="204.90" stroke="#333" stroke-width="0.8"/>
<line x1="503.70" y1="204.90" x2="503.70" y2="356.70" stroke="#333" stroke-width="0.65"/>
<line x1="503.70" y1="356.70" x2="684.50" y2="356.70" stroke="#333" stroke-width="0.8"/>
<line x1="684.70" y1="204.90" x2="684.70" y2="356.70" stroke="#c4c4c4" stroke-width="1.6"/>
<text x="500.20" y="360.80" font-size="12.3" text-anchor="end" >0</text>
<line x1="503.70" y1="295.98" x2="505.90" y2="295.98" stroke="#333" stroke-width="0.65"/>
<text x="500.20" y="300.08" font-size="12.3" text-anchor="end" >20</text>
<line x1="503.70" y1="235.26" x2="505.90" y2="235.26" stroke="#333" stroke-width="0.65"/>
<text x="500.20" y="239.36" font-size="12.3" text-anchor="end" >40</text>
<text x="526.30" y="375.40" font-size="13" text-anchor="middle" >0~30</text>
<text x="570.70" y="375.40" font-size="13" text-anchor="middle" >0~10</text>
<text x="618.30" y="375.40" font-size="13" text-anchor="middle" >10~20</text>
<text x="663.80" y="375.40" font-size="13" text-anchor="middle" >20~30</text>
<text transform="translate(484.20,280.80) rotate(-90)" font-size="13" text-anchor="middle">BNC/SOC (%)</text>
<text x="460.6" y="211.40" font-size="21" font-weight="bold">f</text>
<rect x="571.97" y="234.87" width="24.4" height="22.43" fill="#a9a9a9"/>
<line x1="584.17" y1="235.17" x2="584.17" y2="233.37" stroke="#111" stroke-width="1.1"/>
<line x1="584.17" y1="257.30" x2="584.17" y2="255.50" stroke="#222" stroke-width="0.8"/>
<text x="584.17" y="231.27" font-size="10.3" text-anchor="middle" >a</text>
<text x="584.17" y="268.60" font-size="9.5" text-anchor="middle" >0～10</text>
<rect x="612.10" y="234.87" width="24.4" height="22.43" fill="#a9a9a9"/>
<line x1="624.30" y1="235.17" x2="624.30" y2="233.37" stroke="#111" stroke-width="1.1"/>
<line x1="624.30" y1="257.30" x2="624.30" y2="255.50" stroke="#222" stroke-width="0.8"/>
<text x="624.30" y="231.27" font-size="10.3" text-anchor="middle" >a</text>
<text x="624.30" y="268.60" font-size="9.5" text-anchor="middle" >10～20</text>
<rect x="652.23" y="235.29" width="24.4" height="22.01" fill="#a9a9a9"/>
<line x1="664.43" y1="235.59" x2="664.43" y2="233.79" stroke="#111" stroke-width="1.1"/>
<line x1="664.43" y1="257.30" x2="664.43" y2="255.50" stroke="#222" stroke-width="0.8"/>
<text x="664.43" y="231.69" font-size="10.3" text-anchor="middle" >a</text>
<text x="664.43" y="268.60" font-size="9.5" text-anchor="middle" >20～30</text>
<line x1="564.10" y1="204.90" x2="564.10" y2="257.30" stroke="#333" stroke-width="0.55"/>
<line x1="564.10" y1="257.30" x2="684.50" y2="257.30" stroke="#333" stroke-width="0.65"/>
<text x="561.30" y="260.20" font-size="9" text-anchor="end" >0</text>
<line x1="564.10" y1="225.86" x2="566.10" y2="225.86" stroke="#333" stroke-width="0.65"/>
<text x="561.30" y="228.76" font-size="9" text-anchor="end" >15</text>
<line x1="684.30" y1="204.90" x2="684.30" y2="257.30" stroke="#8a8a8a" stroke-width="1.0"/>
<rect x="46.90" y="494.59" width="7.2" height="55.81" fill="#3f7a8c" stroke="#4a4a4a" stroke-width="0.6"/>
<line x1="50.50" y1="494.59" x2="50.50" y2="493.32" stroke="#444" stroke-width="0.6"/>
<line x1="48.90" y1="493.32" x2="52.10" y2="493.32" stroke="#444" stroke-width="0.6"/>
<circle cx="52.63" cy="495.48" r="1.2" fill="#27596a"/>
<path d="M49.02 492.88L50.82 494.68L49.02 496.48L47.22 494.68Z" fill="#27596a"/>
<circle cx="51.87" cy="496.37" r="1.2" fill="#27596a"/>
<path d="M49.53 492.15L51.33 493.95L49.53 495.75L47.73 493.95Z" fill="#27596a"/>
<circle cx="52.63" cy="494.19" r="1.2" fill="#27596a"/>
<path d="M52.78 493.54L54.58 495.34L52.78 497.14L50.98 495.34Z" fill="#27596a"/>
<text x="50.50" y="488.80" font-size="10.5" text-anchor="middle" >a</text>
<rect x="56.60" y="494.59" width="7.2" height="55.81" fill="#f8e690" stroke="#4a4a4a" stroke-width="0.6"/>
<line x1="60.20" y1="494.59" x2="60.20" y2="492.06" stroke="#444" stroke-width="0.6"/>
<line x1="58.60" y1="492.06" x2="61.80" y2="492.06" stroke="#444" stroke-width="0.6"/>
<circle cx="60.93" cy="493.41" r="1.2" fill="#f4d21f"/>
<path d="M62.88 489.63L64.68 491.43L62.88 493.23L61.08 491.43Z" fill="#f4d21f"/>
<circle cx="60.03" cy="496.48" r="1.2" fill="#f4d21f"/>
<path d="M62.20 489.81L64.00 491.61L62.20 493.41L60.40 491.61Z" fill="#f4d21f"/>
<circle cx="59.85" cy="494.12" r="1.2" fill="#f4d21f"/>
<path d="M59.12 489.86L60.92 491.66L59.12 493.46L57.32 491.66Z" fill="#f4d21f"/>
<text x="60.20" y="486.30" font-size="10.5" text-anchor="middle" >a</text>
<rect x="66.30" y="497.76" width="7.2" height="52.64" fill="#e98a7a" stroke="#4a4a4a" stroke-width="0.6"/>
<line x1="69.90" y1="497.76" x2="69.90" y2="492.06" stroke="#444" stroke-width="0.6"/>
<line x1="68.30" y1="492.06" x2="71.50" y2="492.06" stroke="#444" stroke-width="0.6"/>
<circle cx="68.29" cy="496.28" r="1.2" fill="#e2402c"/>
<path d="M72.20 494.52L74.00 496.32L72.20 498.12L70.40 496.32Z" fill="#e2402c"/>
<circle cx="67.91" cy="500.17" r="1.2" fill="#e2402c"/>
<path d="M72.30 496.37L74.10 498.17L72.30 499.97L70.50 498.17Z" fill="#e2402c"/>
<circle cx="69.03" cy="498.54" r="1.2" fill="#e2402c"/>
<path d="M67.33 496.93L69.13 498.73L67.33 500.53L65.53 498.73Z" fill="#e2402c"/>
<text x="69.90" y="486.30" font-size="10.5" text-anchor="middle" >a</text>
<rect x="76.00" y="497.45" width="7.2" height="52.95" fill="#7ab5d2" stroke="#4a4a4a" stroke-width="0.6"/>
<line x1="79.60" y1="497.45" x2="79.60" y2="494.28" stroke="#444" stroke-width="0.6"/>
<line x1="78.00" y1="494.28" x2="81.20" y2="494.28" stroke="#444" stroke-width="0.6"/>
<circle cx="80.68" cy="494.51" r="1.2" fill="#2b8fb8"/>
<path d="M80.93 492.36L82.73 494.16L80.93 495.96L79.13 494.16Z" fill="#2b8fb8"/>
<circle cx="77.17" cy="495.16" r="1.2" fill="#2b8fb8"/>
<path d="M81.38 494.19L83.18 495.99L81.38 497.79L79.58 495.99Z" fill="#2b8fb8"/>
<circle cx="81.39" cy="498.26" r="1.2" fill="#2b8fb8"/>
<path d="M81.66 494.98L83.46 496.78L81.66 498.58L79.86 496.78Z" fill="#2b8fb8"/>
<text x="79.60" y="489.20" font-size="10.5" text-anchor="middle" >a</text>
<rect x="92.00" y="499.35" width="7.2" height="51.05" fill="#3f7a8c" stroke="#4a4a4a" stroke-width="0.6"/>
<line x1="95.60" y1="499.35" x2="95.60" y2="498.40" stroke="#444" stroke-width="0.6"/>
<line x1="94.00" y1="498.40" x2="97.20" y2="498.40" stroke="#444" stroke-width="0.6"/>
<circle cx="97.92" cy="499.73" r="1.2" fill="#27596a"/>
<path d="M93.95 497.41L95.75 499.21L93.95 501.01L92.15 499.21Z" fill="#27596a"/>
<circle cx="93.43" cy="500.87" r="1.2" fill="#27596a"/>
<path d="M97.35 497.91L99.15 499.71L97.35 501.51L95.55 499.71Z" fill="#27596a"/>
<circle cx="96.35" cy="499.90" r="1.2" fill="#27596a"/>
<path d="M94.41 496.47L96.21 498.27L94.41 500.07L92.61 498.27Z" fill="#27596a"/>
<text x="95.60" y="495.30" font-size="10.5" text-anchor="middle" >a</text>
<rect x="101.70" y="499.03" width="7.2" height="51.37" fill="#f8e690" stroke="#4a4a4a" stroke-width="0.6"/>
<line x1="105.30" y1="499.03" x2="105.30" y2="495.86" stroke="#444" stroke-width="0.6"/>
<line x1="103.70" y1="495.86" x2="106.90" y2="495.86" stroke="#444" stroke-width="0.6"/>
<circle cx="103.06" cy="502.96" r="1.2" fill="#f4d21f"/>
<path d="M103.65 500.00L105.45 501.80L103.65 503.60L101.85 501.80Z" fill="#f4d21f"/>
<circle cx="104.29" cy="498.51" r="1.2" fill="#f4d21f"/>
<path d="M103.94 497.50L105.74 499.30L103.94 501.10L102.14 499.30Z" fill="#f4d21f"/>
<circle cx="104.08" cy="498.45" r="1.2" fill="#f4d21f"/>
<path d="M104.30 494.56L106.10 496.36L104.30 498.16L102.50 496.36Z" fill="#f4d21f"/>
<text x="105.30" y="492.70" font-size="10.5" text-anchor="middle" >a</text>
<rect x="111.40" y="503.79" width="7.2" height="46.61" fill="#e98a7a" stroke="#4a4a4a" stroke-width="0.6"/>
<line x1="115.00" y1="503.79" x2="115.00" y2="501.25" stroke="#444" stroke-width="0.6"/>
<line x1="113.40" y1="501.25" x2="116.60" y2="501.25" stroke="#444" stroke-width="0.6"/>
<circle cx="117.60" cy="499.73" r="1.2" fill="#e2402c"/>
<path d="M115.66 501.88L117.46 503.68L115.66 505.48L113.86 503.68Z" fill="#e2402c"/>
<circle cx="112.37" cy="501.70" r="1.2" fill="#e2402c"/>
<path d="M116.53 503.26L118.33 505.06L116.53 506.86L114.73 505.06Z" fill="#e2402c"/>
<circle cx="114.14" cy="502.99" r="1.2" fill="#e2402c"/>
<path d="M113.41 499.27L115.21 501.07L113.41 502.87L111.61 501.07Z" fill="#e2402c"/>
<text x="115.00" y="497.20" font-size="10.5" text-anchor="middle" >b</text>
<rect x="121.10" y="500.30" width="7.2" height="50.10" fill="#7ab5d2" stroke="#4a4a4a" stroke-width="0.6"/>
<line x1="124.70" y1="500.30" x2="124.70" y2="496.50" stroke="#444" stroke-width="0.6"/>
<line x1="123.10" y1="496.50" x2="126.30" y2="496.50" stroke="#444" stroke-width="0.6"/>
<circle cx="126.73" cy="505.63" r="1.2" fill="#2b8fb8"/>
<path d="M122.85 501.93L124.65 503.73L122.85 505.53L121.05 503.73Z" fill="#2b8fb8"/>
<circle cx="121.91" cy="502.02" r="1.2" fill="#2b8fb8"/>
<path d="M127.38 504.04L129.18 505.84L127.38 507.64L125.58 505.84Z" fill="#2b8fb8"/>
<circle cx="121.92" cy="496.32" r="1.2" fill="#2b8fb8"/>
<path d="M126.36 498.73L128.16 500.53L126.36 502.33L124.56 500.53Z" fill="#2b8fb8"/>
<text x="124.70" y="492.40" font-size="10.5" text-anchor="middle" >ab</text>
<rect x="137.10" y="492.37" width="7.2" height="58.03" fill="#3f7a8c" stroke="#4a4a4a" stroke-width="0.6"/>
<line x1="140.70" y1="492.37" x2="140.70" y2="489.84" stroke="#444" stroke-width="0.6"/>
<line x1="139.10" y1="489.84" x2="142.30" y2="489.84" stroke="#444" stroke-width="0.6"/>
<circle cx="138.93" cy="490.27" r="1.2" fill="#27596a"/>
<path d="M142.56 490.65L144.36 492.45L142.56 494.25L140.76 492.45Z" fill="#27596a"/>
<circle cx="139.36" cy="494.12" r="1.2" fill="#27596a"/>
<path d="M139.10 489.93L140.90 491.73L139.10 493.53L137.30 491.73Z" fill="#27596a"/>
<circle cx="141.82" cy="491.27" r="1.2" fill="#27596a"/>
<path d="M141.46 490.59L143.26 492.39L141.46 494.19L139.66 492.39Z" fill="#27596a"/>
<text x="140.70" y="486.30" font-size="10.5" text-anchor="middle" >a</text>
<rect x="146.80" y="493.01" width="7.2" height="57.39" fill="#f8e690" stroke="#4a4a4a" stroke-width="0.6"/>
<line x1="150.40" y1="493.01" x2="150.40" y2="490.47" stroke="#444" stroke-width="0.6"/>
<line x1="148.80" y1="490.47" x2="152.00" y2="490.47" stroke="#444" stroke-width="0.6"/>
<circle cx="148.05" cy="493.84" r="1.2" fill="#f4d21f"/>
<path d="M152.01 487.78L153.81 489.58L152.01 491.38L150.21 489.58Z" fill="#f4d21f"/>
<circle cx="151.12" cy="491.58" r="1.2" fill="#f4d21f"/>
<path d="M149.81 493.03L151.61 494.83L149.81 496.63L148.01 494.83Z" fill="#f4d21f"/>
<circle cx="152.59" cy="497.07" r="1.2" fill="#f4d21f"/>
<path d="M147.74 493.67L149.54 495.47L147.74 497.27L145.94 495.47Z" fill="#f4d21f"/>
<text x="150.40" y="487.50" font-size="10.5" text-anchor="middle" >a</text>
<rect x="156.50" y="499.35" width="7.2" height="51.05" fill="#e98a7a" stroke="#4a4a4a" stroke-width="0.6"/>
<line x1="160.10" y1="499.35" x2="160.10" y2="494.91" stroke="#444" stroke-width="0.6"/>
<line x1="158.50" y1="494.91" x2="161.70" y2="494.91" stroke="#444" stroke-width="0.6"/>
<circle cx="158.45" cy="498.64" r="1.2" fill="#e2402c"/>
<path d="M160.11 504.65L161.91 506.45L160.11 508.25L158.31 506.45Z" fill="#e2402c"/>
<circle cx="159.42" cy="501.52" r="1.2" fill="#e2402c"/>
<path d="M159.88 495.61L161.68 497.41L159.88 499.21L158.08 497.41Z" fill="#e2402c"/>
<circle cx="160.28" cy="499.54" r="1.2" fill="#e2402c"/>
<path d="M160.92 490.87L162.72 492.67L160.92 494.47L159.12 492.67Z" fill="#e2402c"/>
<text x="160.10" y="490.80" font-size="10.5" text-anchor="middle" >b</text>
<rect x="166.20" y="500.30" width="7.2" height="50.10" fill="#7ab5d2" stroke="#4a4a4a" stroke-width="0.6"/>
<line x1="169.80" y1="500.30" x2="169.80" y2="498.40" stroke="#444" stroke-width="0.6"/>
<line x1="168.20" y1="498.40" x2="171.40" y2="498.40" stroke="#444" stroke-width="0.6"/>
<circle cx="168.95" cy="499.84" r="1.2" fill="#2b8fb8"/>
<path d="M171.72 499.38L173.52 501.18L171.72 502.98L169.92 501.18Z" fill="#2b8fb8"/>
<circle cx="170.71" cy="500.25" r="1.2" fill="#2b8fb8"/>
<path d="M169.46 497.46L171.26 499.26L169.46 501.06L167.66 499.26Z" fill="#2b8fb8"/>
<circle cx="171.33" cy="499.52" r="1.2" fill="#2b8fb8"/>
<path d="M169.59 498.08L171.39 499.88L169.59 501.68L167.79 499.88Z" fill="#2b8fb8"/>
<text x="169.80" y="495.60" font-size="10.5" text-anchor="middle" >b</text>
<rect x="182.20" y="492.37" width="7.2" height="58.03" fill="#3f7a8c" stroke="#4a4a4a" stroke-width="0.6"/>
<line x1="185.80" y1="492.37" x2="185.80" y2="488.57" stroke="#444" stroke-width="0.6"/>
<line x1="184.20" y1="488.57" x2="187.40" y2="488.57" stroke="#444" stroke-width="0.6"/>
<circle cx="187.96" cy="492.54" r="1.2" fill="#27596a"/>
<path d="M184.69 492.80L186.49 494.60L184.69 496.40L182.89 494.60Z" fill="#27596a"/>
<circle cx="186.94" cy="493.48" r="1.2" fill="#27596a"/>
<path d="M183.87 488.92L185.67 490.72L183.87 492.52L182.07 490.72Z" fill="#27596a"/>
<circle cx="184.39" cy="490.45" r="1.2" fill="#27596a"/>
<path d="M183.90 494.26L185.70 496.06L183.90 497.86L182.10 496.06Z" fill="#27596a"/>
<text x="185.80" y="483.50" font-size="10.5" text-anchor="middle" >a</text>
<rect x="191.90" y="490.15" width="7.2" height="60.25" fill="#f8e690" stroke="#4a4a4a" stroke-width="0.6"/>
<line x1="195.50" y1="490.15" x2="195.50" y2="481.28" stroke="#444" stroke-width="0.6"/>
<line x1="193.90" y1="481.28" x2="197.10" y2="481.28" stroke="#444" stroke-width="0.6"/>
<circle cx="194.54" cy="498.24" r="1.2" fill="#f4d21f"/>
<path d="M196.78 502.56L198.58 504.36L196.78 506.16L194.98 504.36Z" fill="#f4d21f"/>
<circle cx="193.27" cy="493.75" r="1.2" fill="#f4d21f"/>
<path d="M194.85 487.49L196.65 489.29L194.85 491.09L193.05 489.29Z" fill="#f4d21f"/>
<circle cx="198.21" cy="493.77" r="1.2" fill="#f4d21f"/>
<path d="M195.14 475.88L196.94 477.68L195.14 479.48L193.34 477.68Z" fill="#f4d21f"/>
<text x="195.50" y="478.70" font-size="10.5" text-anchor="middle" >a</text>
<rect x="201.60" y="489.84" width="7.2" height="60.56" fill="#e98a7a" stroke="#4a4a4a" stroke-width="0.6"/>
<line x1="205.20" y1="489.84" x2="205.20" y2="477.47" stroke="#444" stroke-width="0.6"/>
<line x1="203.60" y1="477.47" x2="206.80" y2="477.47" stroke="#444" stroke-width="0.6"/>
<circle cx="203.50" cy="486.41" r="1.2" fill="#e2402c"/>
<path d="M203.56 484.00L205.36 485.80L203.56 487.60L201.76 485.80Z" fill="#e2402c"/>
<circle cx="204.57" cy="500.81" r="1.2" fill="#e2402c"/>
<path d="M206.83 490.41L208.63 492.21L206.83 494.01L205.03 492.21Z" fill="#e2402c"/>
<circle cx="206.28" cy="474.09" r="1.2" fill="#e2402c"/>
<path d="M204.99 487.99L206.79 489.79L204.99 491.59L203.19 489.79Z" fill="#e2402c"/>
<text x="205.20" y="475.00" font-size="10.5" text-anchor="middle" >a</text>
<rect x="211.30" y="490.79" width="7.2" height="59.61" fill="#7ab5d2" stroke="#4a4a4a" stroke-width="0.6"/>
<line x1="214.90" y1="490.79" x2="214.90" y2="486.98" stroke="#444" stroke-width="0.6"/>
<line x1="213.30" y1="486.98" x2="216.50" y2="486.98" stroke="#444" stroke-width="0.6"/>
<circle cx="212.89" cy="488.02" r="1.2" fill="#2b8fb8"/>
<path d="M216.25 486.87L218.05 488.67L216.25 490.47L214.45 488.67Z" fill="#2b8fb8"/>
<circle cx="217.18" cy="486.74" r="1.2" fill="#2b8fb8"/>
<path d="M216.29 490.89L218.09 492.69L216.29 494.49L214.49 492.69Z" fill="#2b8fb8"/>
<circle cx="214.46" cy="491.52" r="1.2" fill="#2b8fb8"/>
<path d="M217.03 494.42L218.83 496.22L217.03 498.02L215.23 496.22Z" fill="#2b8fb8"/>
<text x="214.90" y="481.90" font-size="10.5" text-anchor="middle" >a</text>
<line x1="42.50" y1="398.20" x2="222.90" y2="398.20" stroke="#333" stroke-width="0.8"/>
<line x1="42.50" y1="398.20" x2="42.50" y2="550.40" stroke="#333" stroke-width="0.65"/>
<line x1="42.50" y1="550.40" x2="222.90" y2="550.40" stroke="#333" stroke-width="0.8"/>
<line x1="223.10" y1="398.20" x2="223.10" y2="550.40" stroke="#c4c4c4" stroke-width="1.6"/>
<text x="39.00" y="554.50" font-size="12.3" text-anchor="end" >0</text>
<line x1="42.50" y1="486.98" x2="44.70" y2="486.98" stroke="#333" stroke-width="0.65"/>
<text x="39.00" y="491.08" font-size="12.3" text-anchor="end" >200</text>
<line x1="42.50" y1="423.57" x2="44.70" y2="423.57" stroke="#333" stroke-width="0.65"/>
<text x="39.00" y="427.67" font-size="12.3" text-anchor="end" >400</text>
<text x="63.35" y="567.50" font-size="13" text-anchor="middle" >0~30</text>
<text x="110.15" y="567.50" font-size="13" text-anchor="middle" >0~10</text>
<text x="155.45" y="567.50" font-size="13" text-anchor="middle" >10~20</text>
<text x="200.35" y="567.50" font-size="13" text-anchor="middle" >20~30</text>
<text x="132.20" y="586.70" font-size="12.7" text-anchor="middle" >Soil depth (cm)</text>
<text transform="translate(15.50,474.30) rotate(-90)" font-size="13" text-anchor="middle">FNC/BNC (%)</text>
<text x="0.5" y="403.70" font-size="21" font-weight="bold">g</text>
<rect x="110.70" y="422.10" width="24.4" height="29.20" fill="#a9a9a9"/>
<line x1="122.90" y1="422.40" x2="122.90" y2="420.60" stroke="#111" stroke-width="1.1"/>
<line x1="122.90" y1="451.30" x2="122.90" y2="449.50" stroke="#222" stroke-width="0.8"/>
<text x="122.90" y="418.50" font-size="10.3" text-anchor="middle" >c</text>
<text x="122.90" y="462.60" font-size="9.5" text-anchor="middle" >0～10</text>
<rect x="150.70" y="419.06" width="24.4" height="32.24" fill="#a9a9a9"/>
<line x1="162.90" y1="419.36" x2="162.90" y2="417.56" stroke="#111" stroke-width="1.1"/>
<line x1="162.90" y1="451.30" x2="162.90" y2="449.50" stroke="#222" stroke-width="0.8"/>
<text x="162.90" y="415.46" font-size="10.3" text-anchor="middle" >b</text>
<text x="162.90" y="462.60" font-size="9.5" text-anchor="middle" >10～20</text>
<rect x="190.70" y="415.65" width="24.4" height="35.65" fill="#a9a9a9"/>
<line x1="202.90" y1="415.95" x2="202.90" y2="414.15" stroke="#111" stroke-width="1.1"/>
<line x1="202.90" y1="451.30" x2="202.90" y2="449.50" stroke="#222" stroke-width="0.8"/>
<text x="202.90" y="412.05" font-size="10.3" text-anchor="middle" >a</text>
<text x="202.90" y="462.60" font-size="9.5" text-anchor="middle" >20～30</text>
<line x1="102.90" y1="398.20" x2="102.90" y2="451.30" stroke="#333" stroke-width="0.55"/>
<line x1="102.90" y1="451.30" x2="222.90" y2="451.30" stroke="#333" stroke-width="0.65"/>
<text x="100.10" y="454.20" font-size="9" text-anchor="end" >0</text>
<line x1="102.90" y1="413.37" x2="104.90" y2="413.37" stroke="#333" stroke-width="0.65"/>
<text x="100.10" y="416.27" font-size="9" text-anchor="end" >200</text>
<line x1="222.70" y1="398.20" x2="222.70" y2="451.30" stroke="#8a8a8a" stroke-width="1.0"/>
<rect x="275.89" y="485.66" width="7.2" height="64.74" fill="#3f7a8c" stroke="#4a4a4a" stroke-width="0.6"/>
<line x1="279.49" y1="485.66" x2="279.49" y2="485.16" stroke="#444" stroke-width="0.6"/>
<line x1="277.89" y1="485.16" x2="281.09" y2="485.16" stroke="#444" stroke-width="0.6"/>
<circle cx="281.02" cy="485.39" r="1.2" fill="#27596a"/>
<path d="M280.49 483.05L282.29 484.85L280.49 486.65L278.69 484.85Z" fill="#27596a"/>
<circle cx="280.28" cy="485.29" r="1.2" fill="#27596a"/>
<path d="M280.21 483.98L282.01 485.78L280.21 487.58L278.41 485.78Z" fill="#27596a"/>
<circle cx="277.24" cy="484.97" r="1.2" fill="#27596a"/>
<path d="M280.68 484.25L282.48 486.05L280.68 487.85L278.88 486.05Z" fill="#27596a"/>
<text x="279.49" y="480.30" font-size="10.5" text-anchor="middle" >a</text>
<rect x="285.59" y="485.66" width="7.2" height="64.74" fill="#f8e690" stroke="#4a4a4a" stroke-width="0.6"/>
<line x1="289.19" y1="485.66" x2="289.19" y2="484.85" stroke="#444" stroke-width="0.6"/>
<line x1="287.59" y1="484.85" x2="290.79" y2="484.85" stroke="#444" stroke-width="0.6"/>
<circle cx="289.91" cy="485.66" r="1.2" fill="#f4d21f"/>
<path d="M288.94 484.63L290.74 486.43L288.94 488.23L287.14 486.43Z" fill="#f4d21f"/>
<circle cx="289.87" cy="484.74" r="1.2" fill="#f4d21f"/>
<path d="M291.60 484.46L293.40 486.26L291.60 488.06L289.80 486.26Z" fill="#f4d21f"/>
<circle cx="287.41" cy="484.95" r="1.2" fill="#f4d21f"/>
<path d="M288.56 482.82L290.36 484.62L288.56 486.42L286.76 484.62Z" fill="#f4d21f"/>
<text x="289.19" y="479.80" font-size="10.5" text-anchor="middle" >a</text>
<rect x="295.29" y="487.59" width="7.2" height="62.81" fill="#e98a7a" stroke="#4a4a4a" stroke-width="0.6"/>
<line x1="298.89" y1="487.59" x2="298.89" y2="485.56" stroke="#444" stroke-width="0.6"/>
<line x1="297.29" y1="485.56" x2="300.49" y2="485.56" stroke="#444" stroke-width="0.6"/>
<circle cx="298.83" cy="488.10" r="1.2" fill="#e2402c"/>
<path d="M299.13 485.71L300.93 487.51L299.13 489.31L297.33 487.51Z" fill="#e2402c"/>
<circle cx="296.99" cy="488.45" r="1.2" fill="#e2402c"/>
<path d="M299.00 482.55L300.80 484.35L299.00 486.15L297.20 484.35Z" fill="#e2402c"/>
<circle cx="296.65" cy="485.56" r="1.2" fill="#e2402c"/>
<path d="M300.10 484.76L301.90 486.56L300.10 488.36L298.30 486.56Z" fill="#e2402c"/>
<text x="298.89" y="481.40" font-size="10.5" text-anchor="middle" >a</text>
<rect x="304.99" y="486.78" width="7.2" height="63.62" fill="#7ab5d2" stroke="#4a4a4a" stroke-width="0.6"/>
<line x1="308.59" y1="486.78" x2="308.59" y2="485.26" stroke="#444" stroke-width="0.6"/>
<line x1="306.99" y1="485.26" x2="310.19" y2="485.26" stroke="#444" stroke-width="0.6"/>
<circle cx="308.66" cy="485.13" r="1.2" fill="#2b8fb8"/>
<path d="M308.71 483.00L310.51 484.80L308.71 486.60L306.91 484.80Z" fill="#2b8fb8"/>
<circle cx="308.09" cy="487.67" r="1.2" fill="#2b8fb8"/>
<path d="M309.62 484.68L311.42 486.48L309.62 488.28L307.82 486.48Z" fill="#2b8fb8"/>
<circle cx="307.99" cy="486.84" r="1.2" fill="#2b8fb8"/>
<path d="M311.30 484.28L313.10 486.08L311.30 487.88L309.50 486.08Z" fill="#2b8fb8"/>
<text x="308.59" y="481.90" font-size="10.5" text-anchor="middle" >a</text>
<rect x="321.16" y="487.59" width="7.2" height="62.81" fill="#3f7a8c" stroke="#4a4a4a" stroke-width="0.6"/>
<line x1="324.76" y1="487.59" x2="324.76" y2="487.08" stroke="#444" stroke-width="0.6"/>
<line x1="323.16" y1="487.08" x2="326.36" y2="487.08" stroke="#444" stroke-width="0.6"/>
<circle cx="323.95" cy="487.93" r="1.2" fill="#27596a"/>
<path d="M324.20 485.92L326.00 487.72L324.20 489.52L322.40 487.72Z" fill="#27596a"/>
<circle cx="322.04" cy="487.18" r="1.2" fill="#27596a"/>
<path d="M325.87 486.03L327.67 487.83L325.87 489.63L324.07 487.83Z" fill="#27596a"/>
<circle cx="323.93" cy="487.56" r="1.2" fill="#27596a"/>
<path d="M326.11 486.12L327.91 487.92L326.11 489.72L324.31 487.92Z" fill="#27596a"/>
<text x="324.76" y="484.30" font-size="10.5" text-anchor="middle" >a</text>
<rect x="330.86" y="486.78" width="7.2" height="63.62" fill="#f8e690" stroke="#4a4a4a" stroke-width="0.6"/>
<line x1="334.46" y1="486.78" x2="334.46" y2="485.77" stroke="#444" stroke-width="0.6"/>
<line x1="332.86" y1="485.77" x2="336.06" y2="485.77" stroke="#444" stroke-width="0.6"/>
<circle cx="336.93" cy="486.15" r="1.2" fill="#f4d21f"/>
<path d="M336.15 484.87L337.95 486.67L336.15 488.47L334.35 486.67Z" fill="#f4d21f"/>
<circle cx="333.86" cy="486.89" r="1.2" fill="#f4d21f"/>
<path d="M336.01 485.45L337.81 487.25L336.01 489.05L334.21 487.25Z" fill="#f4d21f"/>
<circle cx="336.20" cy="486.10" r="1.2" fill="#f4d21f"/>
<path d="M334.81 484.21L336.61 486.01L334.81 487.81L333.01 486.01Z" fill="#f4d21f"/>
<text x="334.46" y="482.70" font-size="10.5" text-anchor="middle" >a</text>
<rect x="340.56" y="490.03" width="7.2" height="60.37" fill="#e98a7a" stroke="#4a4a4a" stroke-width="0.6"/>
<line x1="344.16" y1="490.03" x2="344.16" y2="488.51" stroke="#444" stroke-width="0.6"/>
<line x1="342.56" y1="488.51" x2="345.76" y2="488.51" stroke="#444" stroke-width="0.6"/>
<circle cx="342.63" cy="491.27" r="1.2" fill="#e2402c"/>
<path d="M344.94 487.94L346.74 489.74L344.94 491.54L343.14 489.74Z" fill="#e2402c"/>
<circle cx="345.95" cy="490.65" r="1.2" fill="#e2402c"/>
<path d="M343.01 486.82L344.81 488.62L343.01 490.42L341.21 488.62Z" fill="#e2402c"/>
<circle cx="344.43" cy="491.86" r="1.2" fill="#e2402c"/>
<path d="M343.35 490.06L345.15 491.86L343.35 493.66L341.55 491.86Z" fill="#e2402c"/>
<text x="344.16" y="485.10" font-size="10.5" text-anchor="middle" >b</text>
<rect x="350.26" y="488.40" width="7.2" height="62.00" fill="#7ab5d2" stroke="#4a4a4a" stroke-width="0.6"/>
<line x1="353.86" y1="488.40" x2="353.86" y2="486.37" stroke="#444" stroke-width="0.6"/>
<line x1="352.26" y1="486.37" x2="355.46" y2="486.37" stroke="#444" stroke-width="0.6"/>
<circle cx="355.83" cy="488.21" r="1.2" fill="#2b8fb8"/>
<path d="M352.48 488.37L354.28 490.17L352.48 491.97L350.68 490.17Z" fill="#2b8fb8"/>
<circle cx="353.45" cy="488.46" r="1.2" fill="#2b8fb8"/>
<path d="M355.10 486.73L356.90 488.53L355.10 490.33L353.30 488.53Z" fill="#2b8fb8"/>
<circle cx="352.64" cy="488.45" r="1.2" fill="#2b8fb8"/>
<path d="M353.75 488.15L355.55 489.95L353.75 491.75L351.95 489.95Z" fill="#2b8fb8"/>
<text x="353.86" y="481.90" font-size="10.5" text-anchor="middle" >ab</text>
<rect x="366.44" y="484.65" width="7.2" height="65.75" fill="#3f7a8c" stroke="#4a4a4a" stroke-width="0.6"/>
<line x1="370.04" y1="484.65" x2="370.04" y2="483.43" stroke="#444" stroke-width="0.6"/>
<line x1="368.44" y1="483.43" x2="371.64" y2="483.43" stroke="#444" stroke-width="0.6"/>
<circle cx="369.64" cy="483.60" r="1.2" fill="#27596a"/>
<path d="M369.27 481.63L371.07 483.43L369.27 485.23L367.47 483.43Z" fill="#27596a"/>
<circle cx="372.44" cy="484.88" r="1.2" fill="#27596a"/>
<path d="M371.87 482.55L373.67 484.35L371.87 486.15L370.07 484.35Z" fill="#27596a"/>
<circle cx="372.31" cy="484.78" r="1.2" fill="#27596a"/>
<path d="M371.89 482.26L373.69 484.06L371.89 485.86L370.09 484.06Z" fill="#27596a"/>
<text x="370.04" y="479.80" font-size="10.5" text-anchor="middle" >a</text>
<rect x="376.14" y="485.16" width="7.2" height="65.24" fill="#f8e690" stroke="#4a4a4a" stroke-width="0.6"/>
<line x1="379.74" y1="485.16" x2="379.74" y2="484.35" stroke="#444" stroke-width="0.6"/>
<line x1="378.14" y1="484.35" x2="381.34" y2="484.35" stroke="#444" stroke-width="0.6"/>
<circle cx="380.48" cy="485.27" r="1.2" fill="#f4d21f"/>
<path d="M382.27 483.37L384.07 485.17L382.27 486.97L380.47 485.17Z" fill="#f4d21f"/>
<circle cx="380.61" cy="485.16" r="1.2" fill="#f4d21f"/>
<path d="M377.74 483.69L379.54 485.49L377.74 487.29L375.94 485.49Z" fill="#f4d21f"/>
<circle cx="378.25" cy="485.27" r="1.2" fill="#f4d21f"/>
<path d="M377.79 482.69L379.59 484.49L377.79 486.29L375.99 484.49Z" fill="#f4d21f"/>
<text x="379.74" y="479.20" font-size="10.5" text-anchor="middle" >a</text>
<rect x="385.84" y="488.10" width="7.2" height="62.30" fill="#e98a7a" stroke="#4a4a4a" stroke-width="0.6"/>
<line x1="389.44" y1="488.10" x2="389.44" y2="485.56" stroke="#444" stroke-width="0.6"/>
<line x1="387.84" y1="485.56" x2="391.04" y2="485.56" stroke="#444" stroke-width="0.6"/>
<circle cx="391.70" cy="488.46" r="1.2" fill="#e2402c"/>
<path d="M391.63 484.96L393.43 486.76L391.63 488.56L389.83 486.76Z" fill="#e2402c"/>
<circle cx="390.04" cy="488.76" r="1.2" fill="#e2402c"/>
<path d="M391.64 482.97L393.44 484.77L391.64 486.57L389.84 484.77Z" fill="#e2402c"/>
<circle cx="391.05" cy="488.90" r="1.2" fill="#e2402c"/>
<path d="M390.52 485.02L392.32 486.82L390.52 488.62L388.72 486.82Z" fill="#e2402c"/>
<text x="389.44" y="481.10" font-size="10.5" text-anchor="middle" >b</text>
<rect x="395.54" y="488.40" width="7.2" height="62.00" fill="#7ab5d2" stroke="#4a4a4a" stroke-width="0.6"/>
<line x1="399.14" y1="488.40" x2="399.14" y2="487.59" stroke="#444" stroke-width="0.6"/>
<line x1="397.54" y1="487.59" x2="400.74" y2="487.59" stroke="#444" stroke-width="0.6"/>
<circle cx="399.31" cy="488.36" r="1.2" fill="#2b8fb8"/>
<path d="M401.28 485.82L403.08 487.62L401.28 489.42L399.48 487.62Z" fill="#2b8fb8"/>
<circle cx="399.45" cy="488.36" r="1.2" fill="#2b8fb8"/>
<path d="M397.12 487.14L398.92 488.94L397.12 490.74L395.32 488.94Z" fill="#2b8fb8"/>
<circle cx="399.10" cy="489.17" r="1.2" fill="#2b8fb8"/>
<path d="M397.15 486.90L398.95 488.70L397.15 490.50L395.35 488.70Z" fill="#2b8fb8"/>
<text x="399.14" y="482.40" font-size="10.5" text-anchor="middle" >b</text>
<rect x="411.71" y="485.16" width="7.2" height="65.24" fill="#3f7a8c" stroke="#4a4a4a" stroke-width="0.6"/>
<line x1="415.31" y1="485.16" x2="415.31" y2="483.33" stroke="#444" stroke-width="0.6"/>
<line x1="413.71" y1="483.33" x2="416.91" y2="483.33" stroke="#444" stroke-width="0.6"/>
<circle cx="415.26" cy="483.11" r="1.2" fill="#27596a"/>
<path d="M417.34 483.38L419.14 485.18L417.34 486.98L415.54 485.18Z" fill="#27596a"/>
<circle cx="412.55" cy="486.15" r="1.2" fill="#27596a"/>
<path d="M415.66 481.80L417.46 483.60L415.66 485.40L413.86 483.60Z" fill="#27596a"/>
<circle cx="416.24" cy="486.02" r="1.2" fill="#27596a"/>
<path d="M414.86 482.01L416.66 483.81L414.86 485.61L413.06 483.81Z" fill="#27596a"/>
<text x="415.31" y="479.20" font-size="10.5" text-anchor="middle" >a</text>
<rect x="421.41" y="484.04" width="7.2" height="66.36" fill="#f8e690" stroke="#4a4a4a" stroke-width="0.6"/>
<line x1="425.01" y1="484.04" x2="425.01" y2="481.00" stroke="#444" stroke-width="0.6"/>
<line x1="423.41" y1="481.00" x2="426.61" y2="481.00" stroke="#444" stroke-width="0.6"/>
<circle cx="427.59" cy="487.51" r="1.2" fill="#f4d21f"/>
<path d="M425.77 484.02L427.57 485.82L425.77 487.62L423.97 485.82Z" fill="#f4d21f"/>
<circle cx="422.37" cy="480.84" r="1.2" fill="#f4d21f"/>
<path d="M427.43 479.60L429.23 481.40L427.43 483.20L425.63 481.40Z" fill="#f4d21f"/>
<circle cx="424.06" cy="487.29" r="1.2" fill="#f4d21f"/>
<path d="M424.93 481.87L426.73 483.67L424.93 485.47L423.13 483.67Z" fill="#f4d21f"/>
<text x="425.01" y="475.50" font-size="10.5" text-anchor="middle" >a</text>
<rect x="431.11" y="483.53" width="7.2" height="66.87" fill="#e98a7a" stroke="#4a4a4a" stroke-width="0.6"/>
<line x1="434.71" y1="483.53" x2="434.71" y2="480.49" stroke="#444" stroke-width="0.6"/>
<line x1="433.11" y1="480.49" x2="436.31" y2="480.49" stroke="#444" stroke-width="0.6"/>
<circle cx="436.94" cy="487.80" r="1.2" fill="#e2402c"/>
<path d="M435.41 482.66L437.21 484.46L435.41 486.26L433.61 484.46Z" fill="#e2402c"/>
<circle cx="433.81" cy="485.22" r="1.2" fill="#e2402c"/>
<path d="M434.57 479.74L436.37 481.54L434.57 483.34L432.77 481.54Z" fill="#e2402c"/>
<circle cx="434.86" cy="483.78" r="1.2" fill="#e2402c"/>
<path d="M434.35 479.86L436.15 481.66L434.35 483.46L432.55 481.66Z" fill="#e2402c"/>
<text x="434.71" y="475.50" font-size="10.5" text-anchor="middle" >a</text>
<rect x="440.81" y="484.04" width="7.2" height="66.36" fill="#7ab5d2" stroke="#4a4a4a" stroke-width="0.6"/>
<line x1="444.41" y1="484.04" x2="444.41" y2="482.52" stroke="#444" stroke-width="0.6"/>
<line x1="442.81" y1="482.52" x2="446.01" y2="482.52" stroke="#444" stroke-width="0.6"/>
<circle cx="443.98" cy="481.62" r="1.2" fill="#2b8fb8"/>
<path d="M443.25 481.39L445.05 483.19L443.25 484.99L441.45 483.19Z" fill="#2b8fb8"/>
<circle cx="446.25" cy="482.71" r="1.2" fill="#2b8fb8"/>
<path d="M443.13 483.16L444.93 484.96L443.13 486.76L441.33 484.96Z" fill="#2b8fb8"/>
<circle cx="444.45" cy="486.01" r="1.2" fill="#2b8fb8"/>
<path d="M446.05 481.93L447.85 483.73L446.05 485.53L444.25 483.73Z" fill="#2b8fb8"/>
<text x="444.41" y="478.20" font-size="10.5" text-anchor="middle" >a</text>
<line x1="271.40" y1="398.20" x2="452.50" y2="398.20" stroke="#333" stroke-width="0.8"/>
<line x1="271.40" y1="398.20" x2="271.40" y2="550.40" stroke="#333" stroke-width="0.65"/>
<line x1="271.40" y1="550.40" x2="452.50" y2="550.40" stroke="#333" stroke-width="0.8"/>
<line x1="452.70" y1="398.20" x2="452.70" y2="550.40" stroke="#c4c4c4" stroke-width="1.6"/>
<text x="267.90" y="554.50" font-size="12.3" text-anchor="end" >0</text>
<line x1="271.40" y1="489.52" x2="273.60" y2="489.52" stroke="#333" stroke-width="0.65"/>
<text x="267.90" y="493.62" font-size="12.3" text-anchor="end" >60</text>
<line x1="271.40" y1="428.64" x2="273.60" y2="428.64" stroke="#333" stroke-width="0.65"/>
<text x="267.90" y="432.74" font-size="12.3" text-anchor="end" >120</text>
<text x="295.94" y="567.50" font-size="13" text-anchor="middle" >0~30</text>
<text x="340.71" y="567.50" font-size="13" text-anchor="middle" >0~10</text>
<text x="384.59" y="567.50" font-size="13" text-anchor="middle" >10~20</text>
<text x="430.66" y="567.50" font-size="13" text-anchor="middle" >20~30</text>
<text x="361.45" y="586.70" font-size="12.7" text-anchor="middle" >Soil depth (cm)</text>
<text transform="translate(244.40,474.30) rotate(-90)" font-size="13" text-anchor="middle">FNC/MNC (%)</text>
<text x="227.2" y="403.70" font-size="21" font-weight="bold">h</text>
<rect x="339.72" y="419.12" width="24.4" height="32.18" fill="#a9a9a9"/>
<line x1="351.92" y1="419.42" x2="351.92" y2="417.62" stroke="#111" stroke-width="1.1"/>
<line x1="351.92" y1="451.30" x2="351.92" y2="449.50" stroke="#222" stroke-width="0.8"/>
<text x="351.92" y="415.52" font-size="10.3" text-anchor="middle" >c</text>
<text x="351.92" y="462.60" font-size="9.5" text-anchor="middle" >0～10</text>
<rect x="379.95" y="418.01" width="24.4" height="33.29" fill="#a9a9a9"/>
<line x1="392.15" y1="418.31" x2="392.15" y2="416.51" stroke="#111" stroke-width="1.1"/>
<line x1="392.15" y1="451.30" x2="392.15" y2="449.50" stroke="#222" stroke-width="0.8"/>
<text x="392.15" y="414.41" font-size="10.3" text-anchor="middle" >b</text>
<text x="392.15" y="462.60" font-size="9.5" text-anchor="middle" >10～20</text>
<rect x="420.18" y="416.89" width="24.4" height="34.41" fill="#a9a9a9"/>
<line x1="432.38" y1="417.19" x2="432.38" y2="415.39" stroke="#111" stroke-width="1.1"/>
<line x1="432.38" y1="451.30" x2="432.38" y2="449.50" stroke="#222" stroke-width="0.8"/>
<text x="432.38" y="413.29" font-size="10.3" text-anchor="middle" >a</text>
<text x="432.38" y="462.60" font-size="9.5" text-anchor="middle" >20～30</text>
<line x1="331.80" y1="398.20" x2="331.80" y2="451.30" stroke="#333" stroke-width="0.55"/>
<line x1="331.80" y1="451.30" x2="452.50" y2="451.30" stroke="#333" stroke-width="0.65"/>
<text x="329.00" y="454.20" font-size="9" text-anchor="end" >0</text>
<line x1="331.80" y1="430.06" x2="333.80" y2="430.06" stroke="#333" stroke-width="0.65"/>
<text x="329.00" y="432.96" font-size="9" text-anchor="end" >40</text>
<line x1="331.80" y1="408.82" x2="333.80" y2="408.82" stroke="#333" stroke-width="0.65"/>
<text x="329.00" y="411.72" font-size="9" text-anchor="end" >80</text>
<line x1="452.30" y1="398.20" x2="452.30" y2="451.30" stroke="#8a8a8a" stroke-width="1.0"/>
<rect x="508.15" y="495.15" width="7.2" height="55.25" fill="#3f7a8c" stroke="#4a4a4a" stroke-width="0.6"/>
<line x1="511.75" y1="495.15" x2="511.75" y2="494.54" stroke="#444" stroke-width="0.6"/>
<line x1="510.15" y1="494.54" x2="513.35" y2="494.54" stroke="#444" stroke-width="0.6"/>
<circle cx="510.80" cy="494.96" r="1.2" fill="#27596a"/>
<path d="M512.23 493.77L514.03 495.57L512.23 497.37L510.43 495.57Z" fill="#27596a"/>
<circle cx="512.50" cy="495.18" r="1.2" fill="#27596a"/>
<path d="M513.00 493.20L514.80 495.00L513.00 496.80L511.20 495.00Z" fill="#27596a"/>
<circle cx="513.91" cy="494.98" r="1.2" fill="#27596a"/>
<path d="M510.63 493.30L512.43 495.10L510.63 496.90L508.83 495.10Z" fill="#27596a"/>
<text x="511.75" y="490.30" font-size="10.5" text-anchor="middle" >a</text>
<rect x="517.85" y="494.85" width="7.2" height="55.55" fill="#f8e690" stroke="#4a4a4a" stroke-width="0.6"/>
<line x1="521.45" y1="494.85" x2="521.45" y2="493.32" stroke="#444" stroke-width="0.6"/>
<line x1="519.85" y1="493.32" x2="523.05" y2="493.32" stroke="#444" stroke-width="0.6"/>
<circle cx="518.68" cy="495.99" r="1.2" fill="#f4d21f"/>
<path d="M522.06 495.48L523.86 497.28L522.06 499.08L520.26 497.28Z" fill="#f4d21f"/>
<circle cx="522.33" cy="495.58" r="1.2" fill="#f4d21f"/>
<path d="M522.08 490.61L523.88 492.41L522.08 494.21L520.28 492.41Z" fill="#f4d21f"/>
<circle cx="522.10" cy="493.37" r="1.2" fill="#f4d21f"/>
<path d="M521.99 491.53L523.79 493.33L521.99 495.13L520.19 493.33Z" fill="#f4d21f"/>
<text x="521.45" y="488.40" font-size="10.5" text-anchor="middle" >a</text>
<rect x="527.55" y="492.87" width="7.2" height="57.53" fill="#e98a7a" stroke="#4a4a4a" stroke-width="0.6"/>
<line x1="531.15" y1="492.87" x2="531.15" y2="489.82" stroke="#444" stroke-width="0.6"/>
<line x1="529.55" y1="489.82" x2="532.75" y2="489.82" stroke="#444" stroke-width="0.6"/>
<circle cx="532.16" cy="493.82" r="1.2" fill="#e2402c"/>
<path d="M530.91 495.02L532.71 496.82L530.91 498.62L529.11 496.82Z" fill="#e2402c"/>
<circle cx="532.62" cy="494.26" r="1.2" fill="#e2402c"/>
<path d="M528.56 492.10L530.36 493.90L528.56 495.70L526.76 493.90Z" fill="#e2402c"/>
<circle cx="532.69" cy="496.30" r="1.2" fill="#e2402c"/>
<path d="M530.42 489.01L532.22 490.81L530.42 492.61L528.62 490.81Z" fill="#e2402c"/>
<text x="531.15" y="485.20" font-size="10.5" text-anchor="middle" >a</text>
<rect x="537.25" y="492.87" width="7.2" height="57.53" fill="#7ab5d2" stroke="#4a4a4a" stroke-width="0.6"/>
<line x1="540.85" y1="492.87" x2="540.85" y2="490.59" stroke="#444" stroke-width="0.6"/>
<line x1="539.25" y1="490.59" x2="542.45" y2="490.59" stroke="#444" stroke-width="0.6"/>
<circle cx="542.66" cy="493.47" r="1.2" fill="#2b8fb8"/>
<path d="M539.49 488.50L541.29 490.30L539.49 492.10L537.69 490.30Z" fill="#2b8fb8"/>
<circle cx="539.74" cy="491.28" r="1.2" fill="#2b8fb8"/>
<path d="M540.46 491.92L542.26 493.72L540.46 495.52L538.66 493.72Z" fill="#2b8fb8"/>
<circle cx="541.64" cy="493.50" r="1.2" fill="#2b8fb8"/>
<path d="M541.23 490.79L543.03 492.59L541.23 494.39L539.43 492.59Z" fill="#2b8fb8"/>
<text x="540.85" y="487.40" font-size="10.5" text-anchor="middle" >a</text>
<rect x="553.35" y="491.96" width="7.2" height="58.44" fill="#3f7a8c" stroke="#4a4a4a" stroke-width="0.6"/>
<line x1="556.95" y1="491.96" x2="556.95" y2="491.35" stroke="#444" stroke-width="0.6"/>
<line x1="555.35" y1="491.35" x2="558.55" y2="491.35" stroke="#444" stroke-width="0.6"/>
<circle cx="554.37" cy="492.69" r="1.2" fill="#27596a"/>
<path d="M557.37 490.83L559.17 492.63L557.37 494.43L555.57 492.63Z" fill="#27596a"/>
<circle cx="559.29" cy="491.87" r="1.2" fill="#27596a"/>
<path d="M556.32 490.19L558.12 491.99L556.32 493.79L554.52 491.99Z" fill="#27596a"/>
<circle cx="557.47" cy="492.93" r="1.2" fill="#27596a"/>
<path d="M556.81 489.57L558.61 491.37L556.81 493.17L555.01 491.37Z" fill="#27596a"/>
<text x="556.95" y="487.40" font-size="10.5" text-anchor="middle" >b</text>
<rect x="563.05" y="491.96" width="7.2" height="58.44" fill="#f8e690" stroke="#4a4a4a" stroke-width="0.6"/>
<line x1="566.65" y1="491.96" x2="566.65" y2="489.67" stroke="#444" stroke-width="0.6"/>
<line x1="565.05" y1="489.67" x2="568.25" y2="489.67" stroke="#444" stroke-width="0.6"/>
<circle cx="566.16" cy="494.32" r="1.2" fill="#f4d21f"/>
<path d="M565.04 491.92L566.84 493.72L565.04 495.52L563.24 493.72Z" fill="#f4d21f"/>
<circle cx="564.70" cy="492.16" r="1.2" fill="#f4d21f"/>
<path d="M567.68 490.17L569.48 491.97L567.68 493.77L565.88 491.97Z" fill="#f4d21f"/>
<circle cx="564.53" cy="492.82" r="1.2" fill="#f4d21f"/>
<path d="M568.72 489.97L570.52 491.77L568.72 493.57L566.92 491.77Z" fill="#f4d21f"/>
<text x="566.65" y="486.70" font-size="10.5" text-anchor="middle" >b</text>
<rect x="572.75" y="488.91" width="7.2" height="61.49" fill="#e98a7a" stroke="#4a4a4a" stroke-width="0.6"/>
<line x1="576.35" y1="488.91" x2="576.35" y2="486.17" stroke="#444" stroke-width="0.6"/>
<line x1="574.75" y1="486.17" x2="577.95" y2="486.17" stroke="#444" stroke-width="0.6"/>
<circle cx="574.27" cy="492.82" r="1.2" fill="#e2402c"/>
<path d="M574.91 487.55L576.71 489.35L574.91 491.15L573.11 489.35Z" fill="#e2402c"/>
<circle cx="577.66" cy="489.21" r="1.2" fill="#e2402c"/>
<path d="M577.88 487.84L579.68 489.64L577.88 491.44L576.08 489.64Z" fill="#e2402c"/>
<circle cx="577.55" cy="491.37" r="1.2" fill="#e2402c"/>
<path d="M574.02 483.97L575.82 485.77L574.02 487.57L572.22 485.77Z" fill="#e2402c"/>
<text x="576.35" y="480.10" font-size="10.5" text-anchor="middle" >a</text>
<rect x="582.45" y="491.04" width="7.2" height="59.36" fill="#7ab5d2" stroke="#4a4a4a" stroke-width="0.6"/>
<line x1="586.05" y1="491.04" x2="586.05" y2="488.00" stroke="#444" stroke-width="0.6"/>
<line x1="584.45" y1="488.00" x2="587.65" y2="488.00" stroke="#444" stroke-width="0.6"/>
<circle cx="586.77" cy="490.27" r="1.2" fill="#2b8fb8"/>
<path d="M588.47 486.30L590.27 488.10L588.47 489.90L586.67 488.10Z" fill="#2b8fb8"/>
<circle cx="584.67" cy="495.29" r="1.2" fill="#2b8fb8"/>
<path d="M583.31 488.27L585.11 490.07L583.31 491.87L581.51 490.07Z" fill="#2b8fb8"/>
<circle cx="583.33" cy="488.09" r="1.2" fill="#2b8fb8"/>
<path d="M583.70 485.14L585.50 486.94L583.70 488.74L581.90 486.94Z" fill="#2b8fb8"/>
<text x="586.05" y="484.10" font-size="10.5" text-anchor="middle" >ab</text>
<rect x="598.55" y="496.67" width="7.2" height="53.73" fill="#3f7a8c" stroke="#4a4a4a" stroke-width="0.6"/>
<line x1="602.15" y1="496.67" x2="602.15" y2="495.15" stroke="#444" stroke-width="0.6"/>
<line x1="600.55" y1="495.15" x2="603.75" y2="495.15" stroke="#444" stroke-width="0.6"/>
<circle cx="601.09" cy="496.57" r="1.2" fill="#27596a"/>
<path d="M604.17 494.05L605.97 495.85L604.17 497.65L602.37 495.85Z" fill="#27596a"/>
<circle cx="602.07" cy="497.89" r="1.2" fill="#27596a"/>
<path d="M602.57 495.35L604.37 497.15L602.57 498.95L600.77 497.15Z" fill="#27596a"/>
<circle cx="601.81" cy="496.33" r="1.2" fill="#27596a"/>
<path d="M603.82 494.19L605.62 495.99L603.82 497.79L602.02 495.99Z" fill="#27596a"/>
<text x="602.15" y="491.10" font-size="10.5" text-anchor="middle" >b</text>
<rect x="608.25" y="495.91" width="7.2" height="54.49" fill="#f8e690" stroke="#4a4a4a" stroke-width="0.6"/>
<line x1="611.85" y1="495.91" x2="611.85" y2="494.69" stroke="#444" stroke-width="0.6"/>
<line x1="610.25" y1="494.69" x2="613.45" y2="494.69" stroke="#444" stroke-width="0.6"/>
<circle cx="611.08" cy="494.96" r="1.2" fill="#f4d21f"/>
<path d="M611.39 492.89L613.19 494.69L611.39 496.49L609.59 494.69Z" fill="#f4d21f"/>
<circle cx="611.21" cy="496.51" r="1.2" fill="#f4d21f"/>
<path d="M613.44 492.16L615.24 493.96L613.44 495.76L611.64 493.96Z" fill="#f4d21f"/>
<circle cx="612.22" cy="495.81" r="1.2" fill="#f4d21f"/>
<path d="M614.50 494.49L616.30 496.29L614.50 498.09L612.70 496.29Z" fill="#f4d21f"/>
<text x="611.85" y="490.80" font-size="10.5" text-anchor="middle" >b</text>
<rect x="617.95" y="491.96" width="7.2" height="58.44" fill="#e98a7a" stroke="#4a4a4a" stroke-width="0.6"/>
<line x1="621.55" y1="491.96" x2="621.55" y2="487.39" stroke="#444" stroke-width="0.6"/>
<line x1="619.95" y1="487.39" x2="623.15" y2="487.39" stroke="#444" stroke-width="0.6"/>
<circle cx="622.69" cy="493.68" r="1.2" fill="#e2402c"/>
<path d="M622.14 486.89L623.94 488.69L622.14 490.49L620.34 488.69Z" fill="#e2402c"/>
<circle cx="624.22" cy="494.68" r="1.2" fill="#e2402c"/>
<path d="M620.48 485.29L622.28 487.09L620.48 488.89L618.68 487.09Z" fill="#e2402c"/>
<circle cx="621.15" cy="495.00" r="1.2" fill="#e2402c"/>
<path d="M622.59 487.57L624.39 489.37L622.59 491.17L620.79 489.37Z" fill="#e2402c"/>
<text x="621.55" y="483.00" font-size="10.5" text-anchor="middle" >a</text>
<rect x="627.65" y="491.50" width="7.2" height="58.90" fill="#7ab5d2" stroke="#4a4a4a" stroke-width="0.6"/>
<line x1="631.25" y1="491.50" x2="631.25" y2="489.67" stroke="#444" stroke-width="0.6"/>
<line x1="629.65" y1="489.67" x2="632.85" y2="489.67" stroke="#444" stroke-width="0.6"/>
<circle cx="631.82" cy="493.87" r="1.2" fill="#2b8fb8"/>
<path d="M630.04 487.89L631.84 489.69L630.04 491.49L628.24 489.69Z" fill="#2b8fb8"/>
<circle cx="628.46" cy="491.36" r="1.2" fill="#2b8fb8"/>
<path d="M631.74 491.42L633.54 493.22L631.74 495.02L629.94 493.22Z" fill="#2b8fb8"/>
<circle cx="633.02" cy="491.87" r="1.2" fill="#2b8fb8"/>
<path d="M633.12 489.38L634.92 491.18L633.12 492.98L631.32 491.18Z" fill="#2b8fb8"/>
<text x="631.25" y="487.00" font-size="10.5" text-anchor="middle" >a</text>
<rect x="643.75" y="496.67" width="7.2" height="53.73" fill="#3f7a8c" stroke="#4a4a4a" stroke-width="0.6"/>
<line x1="647.35" y1="496.67" x2="647.35" y2="494.39" stroke="#444" stroke-width="0.6"/>
<line x1="645.75" y1="494.39" x2="648.95" y2="494.39" stroke="#444" stroke-width="0.6"/>
<circle cx="649.10" cy="498.47" r="1.2" fill="#27596a"/>
<path d="M646.08 492.89L647.88 494.69L646.08 496.49L644.28 494.69Z" fill="#27596a"/>
<circle cx="649.32" cy="497.77" r="1.2" fill="#27596a"/>
<path d="M649.67 491.95L651.47 493.75L649.67 495.55L647.87 493.75Z" fill="#27596a"/>
<circle cx="646.49" cy="498.92" r="1.2" fill="#27596a"/>
<path d="M649.02 496.20L650.82 498.00L649.02 499.80L647.22 498.00Z" fill="#27596a"/>
<text x="647.35" y="490.30" font-size="10.5" text-anchor="middle" >a</text>
<rect x="653.45" y="496.98" width="7.2" height="53.42" fill="#f8e690" stroke="#4a4a4a" stroke-width="0.6"/>
<line x1="657.05" y1="496.98" x2="657.05" y2="492.41" stroke="#444" stroke-width="0.6"/>
<line x1="655.45" y1="492.41" x2="658.65" y2="492.41" stroke="#444" stroke-width="0.6"/>
<circle cx="655.37" cy="496.99" r="1.2" fill="#f4d21f"/>
<path d="M655.56 487.87L657.36 489.67L655.56 491.47L653.76 489.67Z" fill="#f4d21f"/>
<circle cx="657.65" cy="494.96" r="1.2" fill="#f4d21f"/>
<path d="M655.41 491.05L657.21 492.85L655.41 494.65L653.61 492.85Z" fill="#f4d21f"/>
<circle cx="655.68" cy="497.03" r="1.2" fill="#f4d21f"/>
<path d="M656.82 487.90L658.62 489.70L656.82 491.50L655.02 489.70Z" fill="#f4d21f"/>
<text x="657.05" y="488.40" font-size="10.5" text-anchor="middle" >a</text>
<rect x="663.15" y="497.43" width="7.2" height="52.97" fill="#e98a7a" stroke="#4a4a4a" stroke-width="0.6"/>
<line x1="666.75" y1="497.43" x2="666.75" y2="491.35" stroke="#444" stroke-width="0.6"/>
<line x1="665.15" y1="491.35" x2="668.35" y2="491.35" stroke="#444" stroke-width="0.6"/>
<circle cx="664.44" cy="500.71" r="1.2" fill="#e2402c"/>
<path d="M665.25 486.80L667.05 488.60L665.25 490.40L663.45 488.60Z" fill="#e2402c"/>
<circle cx="667.20" cy="506.52" r="1.2" fill="#e2402c"/>
<path d="M666.87 488.76L668.67 490.56L666.87 492.36L665.07 490.56Z" fill="#e2402c"/>
<circle cx="666.62" cy="494.43" r="1.2" fill="#e2402c"/>
<path d="M665.03 493.75L666.83 495.55L665.03 497.35L663.23 495.55Z" fill="#e2402c"/>
<text x="666.75" y="488.40" font-size="10.5" text-anchor="middle" >a</text>
<rect x="672.85" y="497.43" width="7.2" height="52.97" fill="#7ab5d2" stroke="#4a4a4a" stroke-width="0.6"/>
<line x1="676.45" y1="497.43" x2="676.45" y2="494.39" stroke="#444" stroke-width="0.6"/>
<line x1="674.85" y1="494.39" x2="678.05" y2="494.39" stroke="#444" stroke-width="0.6"/>
<circle cx="674.66" cy="496.65" r="1.2" fill="#2b8fb8"/>
<path d="M676.81 493.16L678.61 494.96L676.81 496.76L675.01 494.96Z" fill="#2b8fb8"/>
<circle cx="675.90" cy="495.89" r="1.2" fill="#2b8fb8"/>
<path d="M673.90 495.47L675.70 497.27L673.90 499.07L672.10 497.27Z" fill="#2b8fb8"/>
<circle cx="679.23" cy="496.52" r="1.2" fill="#2b8fb8"/>
<path d="M677.19 496.56L678.99 498.36L677.19 500.16L675.39 498.36Z" fill="#2b8fb8"/>
<text x="676.45" y="490.80" font-size="10.5" text-anchor="middle" >a</text>
<line x1="503.70" y1="398.20" x2="684.50" y2="398.20" stroke="#333" stroke-width="0.8"/>
<line x1="503.70" y1="398.20" x2="503.70" y2="550.40" stroke="#333" stroke-width="0.65"/>
<line x1="503.70" y1="550.40" x2="684.50" y2="550.40" stroke="#333" stroke-width="0.8"/>
<line x1="684.70" y1="398.20" x2="684.70" y2="550.40" stroke="#c4c4c4" stroke-width="1.6"/>
<text x="500.20" y="554.50" font-size="12.3" text-anchor="end" >0</text>
<line x1="503.70" y1="504.74" x2="505.90" y2="504.74" stroke="#333" stroke-width="0.65"/>
<text x="500.20" y="508.84" font-size="12.3" text-anchor="end" >30</text>
<line x1="503.70" y1="459.08" x2="505.90" y2="459.08" stroke="#333" stroke-width="0.65"/>
<text x="500.20" y="463.18" font-size="12.3" text-anchor="end" >60</text>
<line x1="503.70" y1="413.42" x2="505.90" y2="413.42" stroke="#333" stroke-width="0.65"/>
<text x="500.20" y="417.52" font-size="12.3" text-anchor="end" >90</text>
<text x="526.30" y="567.50" font-size="13" text-anchor="middle" >0~30</text>
<text x="570.70" y="567.50" font-size="13" text-anchor="middle" >0~10</text>
<text x="618.30" y="567.50" font-size="13" text-anchor="middle" >10~20</text>
<text x="663.80" y="567.50" font-size="13" text-anchor="middle" >20~30</text>
<text x="593.60" y="586.70" font-size="12.7" text-anchor="middle" >Soil depth (cm)</text>
<text transform="translate(483.70,474.30) rotate(-90)" font-size="13" text-anchor="middle">BNC/MNC (%)</text>
<text x="461.5" y="403.70" font-size="21" font-weight="bold">i</text>
<rect x="571.97" y="421.87" width="24.4" height="29.43" fill="#a9a9a9"/>
<line x1="584.17" y1="422.17" x2="584.17" y2="420.37" stroke="#111" stroke-width="1.1"/>
<line x1="584.17" y1="451.30" x2="584.17" y2="449.50" stroke="#222" stroke-width="0.8"/>
<text x="584.17" y="418.27" font-size="10.3" text-anchor="middle" >a</text>
<text x="584.17" y="462.60" font-size="9.5" text-anchor="middle" >0～10</text>
<rect x="612.10" y="423.69" width="24.4" height="27.61" fill="#a9a9a9"/>
<line x1="624.30" y1="423.99" x2="624.30" y2="422.19" stroke="#111" stroke-width="1.1"/>
<line x1="624.30" y1="451.30" x2="624.30" y2="449.50" stroke="#222" stroke-width="0.8"/>
<text x="624.30" y="420.09" font-size="10.3" text-anchor="middle" >b</text>
<text x="624.30" y="462.60" font-size="9.5" text-anchor="middle" >10～20</text>
<rect x="652.23" y="425.21" width="24.4" height="26.09" fill="#a9a9a9"/>
<line x1="664.43" y1="425.51" x2="664.43" y2="423.71" stroke="#111" stroke-width="1.1"/>
<line x1="664.43" y1="451.30" x2="664.43" y2="449.50" stroke="#222" stroke-width="0.8"/>
<text x="664.43" y="421.61" font-size="10.3" text-anchor="middle" >c</text>
<text x="664.43" y="462.60" font-size="9.5" text-anchor="middle" >20～30</text>
<line x1="564.10" y1="398.20" x2="564.10" y2="451.30" stroke="#333" stroke-width="0.55"/>
<line x1="564.10" y1="451.30" x2="684.50" y2="451.30" stroke="#333" stroke-width="0.65"/>
<text x="561.30" y="454.20" font-size="9" text-anchor="end" >0</text>
<line x1="564.10" y1="428.54" x2="566.10" y2="428.54" stroke="#333" stroke-width="0.65"/>
<text x="561.30" y="431.44" font-size="9" text-anchor="end" >30</text>
<line x1="564.10" y1="405.79" x2="566.10" y2="405.79" stroke="#333" stroke-width="0.65"/>
<text x="561.30" y="408.69" font-size="9" text-anchor="end" >60</text>
<line x1="684.30" y1="398.20" x2="684.30" y2="451.30" stroke="#8a8a8a" stroke-width="1.0"/>
<circle cx="205.5" cy="468.2" r="1.2" fill="#e2402c"/>
<rect x="262.20" y="0.7" width="27.7" height="12.9" fill="#3f7a8c" stroke="#4a4a4a" stroke-width="0.6"/>
<text x="294.00" y="11.60" font-size="12.7" text-anchor="start" >CK</text>
<rect x="312.30" y="0.7" width="27.7" height="12.9" fill="#f8e690" stroke="#4a4a4a" stroke-width="0.6"/>
<text x="344.40" y="11.60" font-size="12.7" text-anchor="start" >LG</text>
<rect x="360.60" y="0.7" width="27.7" height="12.9" fill="#e98a7a" stroke="#4a4a4a" stroke-width="0.6"/>
<text x="392.70" y="11.60" font-size="12.7" text-anchor="start" >MG</text>
<rect x="413.10" y="0.7" width="27.7" height="12.9" fill="#7ab5d2" stroke="#4a4a4a" stroke-width="0.6"/>
<text x="445.70" y="11.60" font-size="12.7" text-anchor="start" >HG</text>
</svg>
</body></html>
